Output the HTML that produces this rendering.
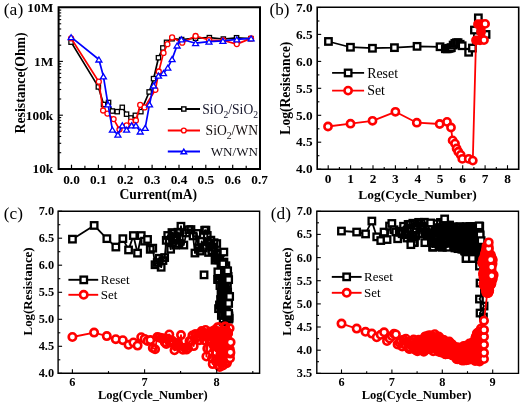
<!DOCTYPE html>
<html><head><meta charset="utf-8"><style>
html,body{margin:0;padding:0;background:#fff;overflow:hidden;width:523px;height:404px}
svg{display:block;will-change:transform}
</style></head><body>
<svg width="523" height="404" viewBox="0 0 523 404">
<rect width="523" height="404" fill="#fff"/>
<polyline fill="none" stroke="#000" stroke-width="1.7" stroke-linejoin="round" points="71.1,42.1 98.4,86.9 103.6,104.5 108.6,102.5 112.4,111.1 117.3,111.7 122.3,107.4 126.6,114.2 130.9,117.9 135.3,115.4 140.8,111.7 149.2,92 153.6,78.7 158.5,57.8 162.8,47.9 166.6,42.4 172.1,38.7 181.7,39.5 195.6,38.2 209.3,37.6 223.4,39 236.6,37.8 250.8,38.6"/>
<rect x="68.9" y="40" width="4.3" height="4.3" fill="#fff" stroke="#000" stroke-width="1.3"/>
<rect x="96.2" y="84.8" width="4.3" height="4.3" fill="#fff" stroke="#000" stroke-width="1.3"/>
<rect x="101.4" y="102.3" width="4.3" height="4.3" fill="#fff" stroke="#000" stroke-width="1.3"/>
<rect x="106.4" y="100.3" width="4.3" height="4.3" fill="#fff" stroke="#000" stroke-width="1.3"/>
<rect x="110.2" y="108.9" width="4.3" height="4.3" fill="#fff" stroke="#000" stroke-width="1.3"/>
<rect x="115.1" y="109.5" width="4.3" height="4.3" fill="#fff" stroke="#000" stroke-width="1.3"/>
<rect x="120.1" y="105.2" width="4.3" height="4.3" fill="#fff" stroke="#000" stroke-width="1.3"/>
<rect x="124.4" y="112" width="4.3" height="4.3" fill="#fff" stroke="#000" stroke-width="1.3"/>
<rect x="128.8" y="115.8" width="4.3" height="4.3" fill="#fff" stroke="#000" stroke-width="1.3"/>
<rect x="133.2" y="113.2" width="4.3" height="4.3" fill="#fff" stroke="#000" stroke-width="1.3"/>
<rect x="138.7" y="109.5" width="4.3" height="4.3" fill="#fff" stroke="#000" stroke-width="1.3"/>
<rect x="147" y="89.8" width="4.3" height="4.3" fill="#fff" stroke="#000" stroke-width="1.3"/>
<rect x="151.4" y="76.5" width="4.3" height="4.3" fill="#fff" stroke="#000" stroke-width="1.3"/>
<rect x="156.3" y="55.6" width="4.3" height="4.3" fill="#fff" stroke="#000" stroke-width="1.3"/>
<rect x="160.7" y="45.8" width="4.3" height="4.3" fill="#fff" stroke="#000" stroke-width="1.3"/>
<rect x="164.4" y="40.2" width="4.3" height="4.3" fill="#fff" stroke="#000" stroke-width="1.3"/>
<rect x="169.9" y="36.6" width="4.3" height="4.3" fill="#fff" stroke="#000" stroke-width="1.3"/>
<rect x="179.5" y="37.4" width="4.3" height="4.3" fill="#fff" stroke="#000" stroke-width="1.3"/>
<rect x="193.4" y="36.1" width="4.3" height="4.3" fill="#fff" stroke="#000" stroke-width="1.3"/>
<rect x="207.2" y="35.5" width="4.3" height="4.3" fill="#fff" stroke="#000" stroke-width="1.3"/>
<rect x="221.2" y="36.9" width="4.3" height="4.3" fill="#fff" stroke="#000" stroke-width="1.3"/>
<rect x="234.4" y="35.6" width="4.3" height="4.3" fill="#fff" stroke="#000" stroke-width="1.3"/>
<rect x="248.7" y="36.5" width="4.3" height="4.3" fill="#fff" stroke="#000" stroke-width="1.3"/>
<polyline fill="none" stroke="#f00" stroke-width="1.7" stroke-linejoin="round" points="71.1,38.3 98.8,81.7 103.1,110.5 107.4,113.6 113.6,119.1 119.5,129.5 126.6,125.3 130.9,121.6 135.9,120.4 140.2,104.9 144.6,107.4 155.4,89.8 158.8,71.5 163.5,52.9 167.4,44.2 172.1,37.4 182.2,42.7 195.6,36 209,40 223.4,40.5 236.8,44.1 251,38.4"/>
<circle cx="71.1" cy="38.3" r="2.5" fill="#fff" stroke="#f00" stroke-width="1.3"/>
<circle cx="98.8" cy="81.7" r="2.5" fill="#fff" stroke="#f00" stroke-width="1.3"/>
<circle cx="103.1" cy="110.5" r="2.5" fill="#fff" stroke="#f00" stroke-width="1.3"/>
<circle cx="107.4" cy="113.6" r="2.5" fill="#fff" stroke="#f00" stroke-width="1.3"/>
<circle cx="113.6" cy="119.1" r="2.5" fill="#fff" stroke="#f00" stroke-width="1.3"/>
<circle cx="119.5" cy="129.5" r="2.5" fill="#fff" stroke="#f00" stroke-width="1.3"/>
<circle cx="126.6" cy="125.3" r="2.5" fill="#fff" stroke="#f00" stroke-width="1.3"/>
<circle cx="130.9" cy="121.6" r="2.5" fill="#fff" stroke="#f00" stroke-width="1.3"/>
<circle cx="135.9" cy="120.4" r="2.5" fill="#fff" stroke="#f00" stroke-width="1.3"/>
<circle cx="140.2" cy="104.9" r="2.5" fill="#fff" stroke="#f00" stroke-width="1.3"/>
<circle cx="144.6" cy="107.4" r="2.5" fill="#fff" stroke="#f00" stroke-width="1.3"/>
<circle cx="155.4" cy="89.8" r="2.5" fill="#fff" stroke="#f00" stroke-width="1.3"/>
<circle cx="158.8" cy="71.5" r="2.5" fill="#fff" stroke="#f00" stroke-width="1.3"/>
<circle cx="163.5" cy="52.9" r="2.5" fill="#fff" stroke="#f00" stroke-width="1.3"/>
<circle cx="167.4" cy="44.2" r="2.5" fill="#fff" stroke="#f00" stroke-width="1.3"/>
<circle cx="172.1" cy="37.4" r="2.5" fill="#fff" stroke="#f00" stroke-width="1.3"/>
<circle cx="182.2" cy="42.7" r="2.5" fill="#fff" stroke="#f00" stroke-width="1.3"/>
<circle cx="195.6" cy="36" r="2.5" fill="#fff" stroke="#f00" stroke-width="1.3"/>
<circle cx="209" cy="40" r="2.5" fill="#fff" stroke="#f00" stroke-width="1.3"/>
<circle cx="223.4" cy="40.5" r="2.5" fill="#fff" stroke="#f00" stroke-width="1.3"/>
<circle cx="236.8" cy="44.1" r="2.5" fill="#fff" stroke="#f00" stroke-width="1.3"/>
<circle cx="251" cy="38.4" r="2.5" fill="#fff" stroke="#f00" stroke-width="1.3"/>
<polyline fill="none" stroke="#00f" stroke-width="1.7" stroke-linejoin="round" points="71.1,37.2 98.9,59.5 103.4,76.3 108,104.3 112.4,129.7 117.9,134.6 122.3,125.3 126.6,129.7 131.6,125.3 135.9,125.3 140.2,131.5 145.2,127.8 149.5,104.3 153.6,85.5 158.5,75.6 163.5,73.1 167.8,67.7 172.1,59.1 177.1,45.5 181.4,39.3 195.6,43.2 209,41.7 222.9,40.8 236.8,39.3 251.1,38.4"/>
<polygon points="68.1,39.7 74.1,39.7 71.1,34.7" fill="#fff" stroke="#00f" stroke-width="1.3" stroke-linejoin="miter"/>
<polygon points="95.9,62 101.9,62 98.9,57" fill="#fff" stroke="#00f" stroke-width="1.3" stroke-linejoin="miter"/>
<polygon points="100.4,78.8 106.4,78.8 103.4,73.8" fill="#fff" stroke="#00f" stroke-width="1.3" stroke-linejoin="miter"/>
<polygon points="105,106.8 111,106.8 108,101.8" fill="#fff" stroke="#00f" stroke-width="1.3" stroke-linejoin="miter"/>
<polygon points="109.4,132.2 115.4,132.2 112.4,127.2" fill="#fff" stroke="#00f" stroke-width="1.3" stroke-linejoin="miter"/>
<polygon points="114.9,137.1 120.9,137.1 117.9,132.1" fill="#fff" stroke="#00f" stroke-width="1.3" stroke-linejoin="miter"/>
<polygon points="119.3,127.8 125.3,127.8 122.3,122.8" fill="#fff" stroke="#00f" stroke-width="1.3" stroke-linejoin="miter"/>
<polygon points="123.6,132.2 129.6,132.2 126.6,127.2" fill="#fff" stroke="#00f" stroke-width="1.3" stroke-linejoin="miter"/>
<polygon points="128.6,127.8 134.6,127.8 131.6,122.8" fill="#fff" stroke="#00f" stroke-width="1.3" stroke-linejoin="miter"/>
<polygon points="132.9,127.8 138.9,127.8 135.9,122.8" fill="#fff" stroke="#00f" stroke-width="1.3" stroke-linejoin="miter"/>
<polygon points="137.2,134 143.2,134 140.2,129" fill="#fff" stroke="#00f" stroke-width="1.3" stroke-linejoin="miter"/>
<polygon points="142.2,130.3 148.2,130.3 145.2,125.3" fill="#fff" stroke="#00f" stroke-width="1.3" stroke-linejoin="miter"/>
<polygon points="146.5,106.8 152.5,106.8 149.5,101.8" fill="#fff" stroke="#00f" stroke-width="1.3" stroke-linejoin="miter"/>
<polygon points="150.6,88 156.6,88 153.6,83" fill="#fff" stroke="#00f" stroke-width="1.3" stroke-linejoin="miter"/>
<polygon points="155.5,78.1 161.5,78.1 158.5,73.1" fill="#fff" stroke="#00f" stroke-width="1.3" stroke-linejoin="miter"/>
<polygon points="160.5,75.6 166.5,75.6 163.5,70.6" fill="#fff" stroke="#00f" stroke-width="1.3" stroke-linejoin="miter"/>
<polygon points="164.8,70.2 170.8,70.2 167.8,65.2" fill="#fff" stroke="#00f" stroke-width="1.3" stroke-linejoin="miter"/>
<polygon points="169.1,61.6 175.1,61.6 172.1,56.6" fill="#fff" stroke="#00f" stroke-width="1.3" stroke-linejoin="miter"/>
<polygon points="174.1,48 180.1,48 177.1,43" fill="#fff" stroke="#00f" stroke-width="1.3" stroke-linejoin="miter"/>
<polygon points="178.4,41.8 184.4,41.8 181.4,36.8" fill="#fff" stroke="#00f" stroke-width="1.3" stroke-linejoin="miter"/>
<polygon points="192.6,45.7 198.6,45.7 195.6,40.7" fill="#fff" stroke="#00f" stroke-width="1.3" stroke-linejoin="miter"/>
<polygon points="206,44.2 212,44.2 209,39.2" fill="#fff" stroke="#00f" stroke-width="1.3" stroke-linejoin="miter"/>
<polygon points="219.9,43.3 225.9,43.3 222.9,38.3" fill="#fff" stroke="#00f" stroke-width="1.3" stroke-linejoin="miter"/>
<polygon points="233.8,41.8 239.8,41.8 236.8,36.8" fill="#fff" stroke="#00f" stroke-width="1.3" stroke-linejoin="miter"/>
<polygon points="248.1,40.9 254.1,40.9 251.1,35.9" fill="#fff" stroke="#00f" stroke-width="1.3" stroke-linejoin="miter"/>
<path d="M58.6 7.3H260V168.9H58.6Z" fill="none" stroke="#000" stroke-width="2"/>
<line x1="71.5" y1="168.9" x2="71.5" y2="164.7" stroke="#000" stroke-width="1.2"/>
<line x1="84.9" y1="168.9" x2="84.9" y2="165.7" stroke="#000" stroke-width="1.2"/>
<line x1="98.4" y1="168.9" x2="98.4" y2="164.7" stroke="#000" stroke-width="1.2"/>
<line x1="111.8" y1="168.9" x2="111.8" y2="165.7" stroke="#000" stroke-width="1.2"/>
<line x1="125.2" y1="168.9" x2="125.2" y2="164.7" stroke="#000" stroke-width="1.2"/>
<line x1="138.7" y1="168.9" x2="138.7" y2="165.7" stroke="#000" stroke-width="1.2"/>
<line x1="152.1" y1="168.9" x2="152.1" y2="164.7" stroke="#000" stroke-width="1.2"/>
<line x1="165.5" y1="168.9" x2="165.5" y2="165.7" stroke="#000" stroke-width="1.2"/>
<line x1="179" y1="168.9" x2="179" y2="164.7" stroke="#000" stroke-width="1.2"/>
<line x1="192.4" y1="168.9" x2="192.4" y2="165.7" stroke="#000" stroke-width="1.2"/>
<line x1="205.8" y1="168.9" x2="205.8" y2="164.7" stroke="#000" stroke-width="1.2"/>
<line x1="219.3" y1="168.9" x2="219.3" y2="165.7" stroke="#000" stroke-width="1.2"/>
<line x1="232.7" y1="168.9" x2="232.7" y2="164.7" stroke="#000" stroke-width="1.2"/>
<line x1="246.2" y1="168.9" x2="246.2" y2="165.7" stroke="#000" stroke-width="1.2"/>
<line x1="259.6" y1="168.9" x2="259.6" y2="164.7" stroke="#000" stroke-width="1.2"/>
<text x="71.5" y="184.3" font-family="Liberation Serif" font-size="13.3" font-weight="bold" text-anchor="middle" fill="#000">0.0</text>
<text x="98.4" y="184.3" font-family="Liberation Serif" font-size="13.3" font-weight="bold" text-anchor="middle" fill="#000">0.1</text>
<text x="125.2" y="184.3" font-family="Liberation Serif" font-size="13.3" font-weight="bold" text-anchor="middle" fill="#000">0.2</text>
<text x="152.1" y="184.3" font-family="Liberation Serif" font-size="13.3" font-weight="bold" text-anchor="middle" fill="#000">0.3</text>
<text x="179" y="184.3" font-family="Liberation Serif" font-size="13.3" font-weight="bold" text-anchor="middle" fill="#000">0.4</text>
<text x="205.8" y="184.3" font-family="Liberation Serif" font-size="13.3" font-weight="bold" text-anchor="middle" fill="#000">0.5</text>
<text x="232.7" y="184.3" font-family="Liberation Serif" font-size="13.3" font-weight="bold" text-anchor="middle" fill="#000">0.6</text>
<text x="259.6" y="184.3" font-family="Liberation Serif" font-size="13.3" font-weight="bold" text-anchor="middle" fill="#000">0.7</text>
<line x1="58.6" y1="168.9" x2="62.9" y2="168.9" stroke="#000" stroke-width="1.1"/>
<line x1="58.6" y1="152.7" x2="61.2" y2="152.7" stroke="#000" stroke-width="1.1"/>
<line x1="58.6" y1="143.3" x2="61.2" y2="143.3" stroke="#000" stroke-width="1.1"/>
<line x1="58.6" y1="136.5" x2="61.2" y2="136.5" stroke="#000" stroke-width="1.1"/>
<line x1="58.6" y1="131.3" x2="61.2" y2="131.3" stroke="#000" stroke-width="1.1"/>
<line x1="58.6" y1="127.1" x2="61.2" y2="127.1" stroke="#000" stroke-width="1.1"/>
<line x1="58.6" y1="123.5" x2="61.2" y2="123.5" stroke="#000" stroke-width="1.1"/>
<line x1="58.6" y1="120.4" x2="61.2" y2="120.4" stroke="#000" stroke-width="1.1"/>
<line x1="58.6" y1="117.6" x2="61.2" y2="117.6" stroke="#000" stroke-width="1.1"/>
<line x1="58.6" y1="115.2" x2="62.9" y2="115.2" stroke="#000" stroke-width="1.1"/>
<line x1="58.6" y1="99" x2="61.2" y2="99" stroke="#000" stroke-width="1.1"/>
<line x1="58.6" y1="89.5" x2="61.2" y2="89.5" stroke="#000" stroke-width="1.1"/>
<line x1="58.6" y1="82.8" x2="61.2" y2="82.8" stroke="#000" stroke-width="1.1"/>
<line x1="58.6" y1="77.6" x2="61.2" y2="77.6" stroke="#000" stroke-width="1.1"/>
<line x1="58.6" y1="73.3" x2="61.2" y2="73.3" stroke="#000" stroke-width="1.1"/>
<line x1="58.6" y1="69.7" x2="61.2" y2="69.7" stroke="#000" stroke-width="1.1"/>
<line x1="58.6" y1="66.6" x2="61.2" y2="66.6" stroke="#000" stroke-width="1.1"/>
<line x1="58.6" y1="63.9" x2="61.2" y2="63.9" stroke="#000" stroke-width="1.1"/>
<line x1="58.6" y1="61.4" x2="62.9" y2="61.4" stroke="#000" stroke-width="1.1"/>
<line x1="58.6" y1="45.2" x2="61.2" y2="45.2" stroke="#000" stroke-width="1.1"/>
<line x1="58.6" y1="35.8" x2="61.2" y2="35.8" stroke="#000" stroke-width="1.1"/>
<line x1="58.6" y1="29" x2="61.2" y2="29" stroke="#000" stroke-width="1.1"/>
<line x1="58.6" y1="23.8" x2="61.2" y2="23.8" stroke="#000" stroke-width="1.1"/>
<line x1="58.6" y1="19.6" x2="61.2" y2="19.6" stroke="#000" stroke-width="1.1"/>
<line x1="58.6" y1="16" x2="61.2" y2="16" stroke="#000" stroke-width="1.1"/>
<line x1="58.6" y1="12.9" x2="61.2" y2="12.9" stroke="#000" stroke-width="1.1"/>
<line x1="58.6" y1="10.1" x2="61.2" y2="10.1" stroke="#000" stroke-width="1.1"/>
<text x="53.2" y="173.2" font-family="Liberation Serif" font-size="13.3" font-weight="bold" text-anchor="end" fill="#000">10k</text>
<text x="53.2" y="119.5" font-family="Liberation Serif" font-size="13.3" font-weight="bold" text-anchor="end" fill="#000">100k</text>
<text x="53.2" y="65.7" font-family="Liberation Serif" font-size="13.3" font-weight="bold" text-anchor="end" fill="#000">1M</text>
<text x="53.2" y="12" font-family="Liberation Serif" font-size="13.3" font-weight="bold" text-anchor="end" fill="#000">10M</text>
<text x="158.3" y="198.7" font-family="Liberation Serif" font-size="13.6" font-weight="bold" text-anchor="middle" fill="#000">Current(mA)</text>
<text x="24.9" y="82.9" font-family="Liberation Serif" font-size="13.8" font-weight="bold" text-anchor="middle" fill="#000" transform="rotate(-90 24.9 82.9)">Resistance(Ohm)</text>
<text x="3.8" y="15" font-family="Liberation Serif" font-size="17.5" font-weight="normal" text-anchor="start" fill="#000">(a)</text>
<line x1="167.8" y1="109" x2="200" y2="109" stroke="#000" stroke-width="1.9"/>
<rect x="181.7" y="106.9" width="4.2" height="4.2" fill="#fff" stroke="#000" stroke-width="1.4"/>
<line x1="167.8" y1="130.5" x2="200" y2="130.5" stroke="#f00" stroke-width="1.9"/>
<circle cx="183.8" cy="130.5" r="2.4" fill="#fff" stroke="#f00" stroke-width="1.4"/>
<line x1="167.8" y1="151.5" x2="200" y2="151.5" stroke="#00f" stroke-width="1.9"/>
<polygon points="181,153.8 186.6,153.8 183.8,149.2" fill="#fff" stroke="#00f" stroke-width="1.4" stroke-linejoin="miter"/>
<text x="258" y="114.3" font-family="Liberation Serif" font-size="13.6" text-anchor="end" fill="#14142a">SiO<tspan font-size="9.6" dy="3.6">2</tspan><tspan dy="-3.6">/SiO</tspan><tspan font-size="9.6" dy="3.6">2</tspan></text>
<text x="258" y="135" font-family="Liberation Serif" font-size="13.6" text-anchor="end" fill="#161010">SiO<tspan font-size="9.6" dy="3.6">2</tspan><tspan dy="-3.6">/WN</tspan></text>
<text x="258" y="156.3" font-family="Liberation Serif" font-size="13.1" text-anchor="end" fill="#101018">WN/WN</text>
<polyline fill="none" stroke="#000" stroke-width="1.7" stroke-linejoin="round" points="328.5,41.5 350.5,47.2 372.5,48.2 394.5,47.6 417,46.4 440,46.8 445.3,48.7 447.2,48.9 448.8,48.4 450.2,48 451.4,47.6 453.2,45 454.9,43.4 456.5,42.8 458,42.6 460.2,44.2 462.2,45.7 468.7,52.2 472.5,48 474.5,30 478.3,17.8 486,34.5"/>
<rect x="325.2" y="38.2" width="6.5" height="6.5" fill="#fff" stroke="#000" stroke-width="2.3"/>
<rect x="347.2" y="44" width="6.5" height="6.5" fill="#fff" stroke="#000" stroke-width="2.3"/>
<rect x="369.2" y="45" width="6.5" height="6.5" fill="#fff" stroke="#000" stroke-width="2.3"/>
<rect x="391.2" y="44.4" width="6.5" height="6.5" fill="#fff" stroke="#000" stroke-width="2.3"/>
<rect x="413.8" y="43.1" width="6.5" height="6.5" fill="#fff" stroke="#000" stroke-width="2.3"/>
<rect x="436.8" y="43.5" width="6.5" height="6.5" fill="#fff" stroke="#000" stroke-width="2.3"/>
<rect x="442.1" y="45.5" width="6.5" height="6.5" fill="#fff" stroke="#000" stroke-width="2.3"/>
<rect x="443.9" y="45.6" width="6.5" height="6.5" fill="#fff" stroke="#000" stroke-width="2.3"/>
<rect x="445.6" y="45.1" width="6.5" height="6.5" fill="#fff" stroke="#000" stroke-width="2.3"/>
<rect x="446.9" y="44.8" width="6.5" height="6.5" fill="#fff" stroke="#000" stroke-width="2.3"/>
<rect x="448.1" y="44.4" width="6.5" height="6.5" fill="#fff" stroke="#000" stroke-width="2.3"/>
<rect x="449.9" y="41.8" width="6.5" height="6.5" fill="#fff" stroke="#000" stroke-width="2.3"/>
<rect x="451.6" y="40.1" width="6.5" height="6.5" fill="#fff" stroke="#000" stroke-width="2.3"/>
<rect x="453.2" y="39.5" width="6.5" height="6.5" fill="#fff" stroke="#000" stroke-width="2.3"/>
<rect x="454.8" y="39.4" width="6.5" height="6.5" fill="#fff" stroke="#000" stroke-width="2.3"/>
<rect x="456.9" y="41" width="6.5" height="6.5" fill="#fff" stroke="#000" stroke-width="2.3"/>
<rect x="458.9" y="42.5" width="6.5" height="6.5" fill="#fff" stroke="#000" stroke-width="2.3"/>
<rect x="465.4" y="49" width="6.5" height="6.5" fill="#fff" stroke="#000" stroke-width="2.3"/>
<rect x="469.2" y="44.8" width="6.5" height="6.5" fill="#fff" stroke="#000" stroke-width="2.3"/>
<rect x="471.2" y="26.8" width="6.5" height="6.5" fill="#fff" stroke="#000" stroke-width="2.3"/>
<rect x="475.1" y="14.6" width="6.5" height="6.5" fill="#fff" stroke="#000" stroke-width="2.3"/>
<rect x="482.8" y="31.2" width="6.5" height="6.5" fill="#fff" stroke="#000" stroke-width="2.3"/>
<polyline fill="none" stroke="#f00" stroke-width="1.8" stroke-linejoin="round" points="328,126.5 350.5,123.7 372.5,120.8 395.4,111.8 416.8,122.7 439.7,124 447,121.9 451,127.5 452.6,140.4 455,143.6 456.6,148.5 458.3,151.7 460.7,154.9 462.3,158.9 468.7,158.9 472.8,160.6 476,40.3"/>
<polyline fill="none" stroke="#f00" stroke-width="1.5" stroke-linejoin="round" points="476,40.3 480,40.3 481,32 478,24.2 481.5,24.2 484,40.1 485.1,23.9"/>
<circle cx="328" cy="126.5" r="3.6" fill="#fff" stroke="#f00" stroke-width="2.6"/>
<circle cx="350.5" cy="123.7" r="3.6" fill="#fff" stroke="#f00" stroke-width="2.6"/>
<circle cx="372.5" cy="120.8" r="3.6" fill="#fff" stroke="#f00" stroke-width="2.6"/>
<circle cx="395.4" cy="111.8" r="3.6" fill="#fff" stroke="#f00" stroke-width="2.6"/>
<circle cx="416.8" cy="122.7" r="3.6" fill="#fff" stroke="#f00" stroke-width="2.6"/>
<circle cx="439.7" cy="124" r="3.6" fill="#fff" stroke="#f00" stroke-width="2.6"/>
<circle cx="447" cy="121.9" r="3.6" fill="#fff" stroke="#f00" stroke-width="2.6"/>
<circle cx="451" cy="127.5" r="3.6" fill="#fff" stroke="#f00" stroke-width="2.6"/>
<circle cx="452.6" cy="140.4" r="3.6" fill="#fff" stroke="#f00" stroke-width="2.6"/>
<circle cx="455" cy="143.6" r="3.6" fill="#fff" stroke="#f00" stroke-width="2.6"/>
<circle cx="456.6" cy="148.5" r="3.6" fill="#fff" stroke="#f00" stroke-width="2.6"/>
<circle cx="458.3" cy="151.7" r="3.6" fill="#fff" stroke="#f00" stroke-width="2.6"/>
<circle cx="460.7" cy="154.9" r="3.6" fill="#fff" stroke="#f00" stroke-width="2.6"/>
<circle cx="462.3" cy="158.9" r="3.6" fill="#fff" stroke="#f00" stroke-width="2.6"/>
<circle cx="468.7" cy="158.9" r="3.6" fill="#fff" stroke="#f00" stroke-width="2.6"/>
<circle cx="472.8" cy="160.6" r="3.6" fill="#fff" stroke="#f00" stroke-width="2.6"/>
<circle cx="476" cy="40.3" r="3.6" fill="#f00" stroke="#f00" stroke-width="2.6"/>
<circle cx="480" cy="40.3" r="3.6" fill="#f00" stroke="#f00" stroke-width="2.6"/>
<circle cx="481" cy="32" r="3.6" fill="#f00" stroke="#f00" stroke-width="2.6"/>
<circle cx="478" cy="24.2" r="3.6" fill="#f00" stroke="#f00" stroke-width="2.6"/>
<circle cx="481.5" cy="24.2" r="3.6" fill="#f00" stroke="#f00" stroke-width="2.6"/>
<circle cx="484" cy="40.1" r="3.6" fill="#fff" stroke="#f00" stroke-width="2.6"/>
<circle cx="485.1" cy="23.9" r="3.6" fill="#fff" stroke="#f00" stroke-width="2.6"/>
<path d="M317.2 7.3H518.7V169.2H317.2Z" fill="none" stroke="#000" stroke-width="1.6"/>
<line x1="328.2" y1="169.2" x2="328.2" y2="165.2" stroke="#000" stroke-width="1.1"/>
<line x1="339.4" y1="169.2" x2="339.4" y2="167" stroke="#000" stroke-width="1.1"/>
<line x1="350.6" y1="169.2" x2="350.6" y2="165.2" stroke="#000" stroke-width="1.1"/>
<line x1="361.8" y1="169.2" x2="361.8" y2="167" stroke="#000" stroke-width="1.1"/>
<line x1="373" y1="169.2" x2="373" y2="165.2" stroke="#000" stroke-width="1.1"/>
<line x1="384.2" y1="169.2" x2="384.2" y2="167" stroke="#000" stroke-width="1.1"/>
<line x1="395.4" y1="169.2" x2="395.4" y2="165.2" stroke="#000" stroke-width="1.1"/>
<line x1="406.6" y1="169.2" x2="406.6" y2="167" stroke="#000" stroke-width="1.1"/>
<line x1="417.8" y1="169.2" x2="417.8" y2="165.2" stroke="#000" stroke-width="1.1"/>
<line x1="429" y1="169.2" x2="429" y2="167" stroke="#000" stroke-width="1.1"/>
<line x1="440.2" y1="169.2" x2="440.2" y2="165.2" stroke="#000" stroke-width="1.1"/>
<line x1="451.5" y1="169.2" x2="451.5" y2="167" stroke="#000" stroke-width="1.1"/>
<line x1="462.7" y1="169.2" x2="462.7" y2="165.2" stroke="#000" stroke-width="1.1"/>
<line x1="473.9" y1="169.2" x2="473.9" y2="167" stroke="#000" stroke-width="1.1"/>
<line x1="485.1" y1="169.2" x2="485.1" y2="165.2" stroke="#000" stroke-width="1.1"/>
<line x1="496.3" y1="169.2" x2="496.3" y2="167" stroke="#000" stroke-width="1.1"/>
<line x1="507.5" y1="169.2" x2="507.5" y2="165.2" stroke="#000" stroke-width="1.1"/>
<text x="328.2" y="183.3" font-family="Liberation Serif" font-size="13.3" font-weight="bold" text-anchor="middle" fill="#000">0</text>
<text x="350.6" y="183.3" font-family="Liberation Serif" font-size="13.3" font-weight="bold" text-anchor="middle" fill="#000">1</text>
<text x="373" y="183.3" font-family="Liberation Serif" font-size="13.3" font-weight="bold" text-anchor="middle" fill="#000">2</text>
<text x="395.4" y="183.3" font-family="Liberation Serif" font-size="13.3" font-weight="bold" text-anchor="middle" fill="#000">3</text>
<text x="417.8" y="183.3" font-family="Liberation Serif" font-size="13.3" font-weight="bold" text-anchor="middle" fill="#000">4</text>
<text x="440.2" y="183.3" font-family="Liberation Serif" font-size="13.3" font-weight="bold" text-anchor="middle" fill="#000">5</text>
<text x="462.7" y="183.3" font-family="Liberation Serif" font-size="13.3" font-weight="bold" text-anchor="middle" fill="#000">6</text>
<text x="485.1" y="183.3" font-family="Liberation Serif" font-size="13.3" font-weight="bold" text-anchor="middle" fill="#000">7</text>
<text x="507.5" y="183.3" font-family="Liberation Serif" font-size="13.3" font-weight="bold" text-anchor="middle" fill="#000">8</text>
<line x1="317.2" y1="169.2" x2="321.2" y2="169.2" stroke="#000" stroke-width="1.1"/>
<line x1="317.2" y1="155.7" x2="319.4" y2="155.7" stroke="#000" stroke-width="1.1"/>
<line x1="317.2" y1="142.2" x2="321.2" y2="142.2" stroke="#000" stroke-width="1.1"/>
<line x1="317.2" y1="128.8" x2="319.4" y2="128.8" stroke="#000" stroke-width="1.1"/>
<line x1="317.2" y1="115.3" x2="321.2" y2="115.3" stroke="#000" stroke-width="1.1"/>
<line x1="317.2" y1="101.8" x2="319.4" y2="101.8" stroke="#000" stroke-width="1.1"/>
<line x1="317.2" y1="88.3" x2="321.2" y2="88.3" stroke="#000" stroke-width="1.1"/>
<line x1="317.2" y1="74.9" x2="319.4" y2="74.9" stroke="#000" stroke-width="1.1"/>
<line x1="317.2" y1="61.4" x2="321.2" y2="61.4" stroke="#000" stroke-width="1.1"/>
<line x1="317.2" y1="47.9" x2="319.4" y2="47.9" stroke="#000" stroke-width="1.1"/>
<line x1="317.2" y1="34.4" x2="321.2" y2="34.4" stroke="#000" stroke-width="1.1"/>
<line x1="317.2" y1="21" x2="319.4" y2="21" stroke="#000" stroke-width="1.1"/>
<line x1="317.2" y1="7.5" x2="321.2" y2="7.5" stroke="#000" stroke-width="1.1"/>
<text x="312.6" y="173.4" font-family="Liberation Serif" font-size="13.3" font-weight="bold" text-anchor="end" fill="#000">4.0</text>
<text x="312.6" y="146.4" font-family="Liberation Serif" font-size="13.3" font-weight="bold" text-anchor="end" fill="#000">4.5</text>
<text x="312.6" y="119.5" font-family="Liberation Serif" font-size="13.3" font-weight="bold" text-anchor="end" fill="#000">5.0</text>
<text x="312.6" y="92.5" font-family="Liberation Serif" font-size="13.3" font-weight="bold" text-anchor="end" fill="#000">5.5</text>
<text x="312.6" y="65.6" font-family="Liberation Serif" font-size="13.3" font-weight="bold" text-anchor="end" fill="#000">6.0</text>
<text x="312.6" y="38.6" font-family="Liberation Serif" font-size="13.3" font-weight="bold" text-anchor="end" fill="#000">6.5</text>
<text x="312.6" y="11.7" font-family="Liberation Serif" font-size="13.3" font-weight="bold" text-anchor="end" fill="#000">7.0</text>
<text x="417.6" y="198.7" font-family="Liberation Serif" font-size="13.5" font-weight="bold" text-anchor="middle" fill="#000">Log(Cycle_Number)</text>
<text x="290.1" y="88.2" font-family="Liberation Serif" font-size="13.6" font-weight="bold" text-anchor="middle" fill="#000" transform="rotate(-90 290.1 88.2)">Log(Resistance)</text>
<text x="269.5" y="14.6" font-family="Liberation Serif" font-size="17" font-weight="normal" text-anchor="start" fill="#000">(b)</text>
<line x1="332.1" y1="72.9" x2="364.1" y2="72.9" stroke="#000" stroke-width="1.9"/>
<rect x="344.9" y="69.7" width="6.5" height="6.5" fill="#fff" stroke="#000" stroke-width="2.3"/>
<line x1="332.1" y1="90.6" x2="364.1" y2="90.6" stroke="#f00" stroke-width="1.9"/>
<circle cx="348.1" cy="90.6" r="3.6" fill="#fff" stroke="#f00" stroke-width="2.6"/>
<text x="367.2" y="77.9" font-family="Liberation Serif" font-size="13.9" font-weight="normal" text-anchor="start" fill="#000">Reset</text>
<text x="367.2" y="95" font-family="Liberation Serif" font-size="13.9" font-weight="normal" text-anchor="start" fill="#000">Set</text>
<polyline fill="none" stroke="#000" stroke-width="1.8" stroke-linejoin="round" points="72.4,239.2 94.1,225.4 106.8,238.7 115.8,247.1 122.8,238.7 128.5,249.9 133.4,235.6 137.6,253.2 141.2,235.6 144.6,241.2 147.5,239.4 150.3,249.4 152.8,248.2 155.1,264.8 157.3,262.6 159.3,258.2 161.2,267.2 163,260.6 164.7,257.6 166.3,240.3 167.8,235.5 169.3,241.8 170.6,249.2 172,232.6 173.3,233.5 174.5,240.4 175.7,245.2 176.8,236.7 177.9,232.2 179,243.4 181,226.2 183.8,245.1 186.4,232.9 188.8,229.8 191,229.6 193,236 195,253.1 196.8,233.4 198.5,248 200.2,251 201.7,241.4 203.2,247.7 204.6,230.3 206,230.1 207.3,235.4 208.5,252.5 209.7,243.4 210.9,240.1 212,250.7 213,247 214.1,242.8 215.1,260.1 216.1,257.7 216.7,243.5 217,254.6 217.3,258.3 217.6,279.5 217.9,279.4 218.2,259.8 218.5,308.7 218.8,254.5 219.1,278.9 219.4,304.9 219.7,259.9 220,285.5 220.3,252.7 220.5,299.5 220.8,306.9 221.1,293.2 221.4,315.4 221.6,275.3 221.9,303 222.2,296.1 222.4,295.4 222.7,287.1 222.9,314.2 223.2,321.7 223.4,289.4 223.7,302.8 223.9,262 224.2,305.9 224.4,302.5 224.7,325.4 224.9,314.3 225.2,280.1 225.4,287 225.6,305.1 225.9,265.7 226.1,293.1 226.3,276 226.6,273.6 226.8,270.9 227,312.2 227.2,276.3 227.5,283.5 227.7,291.9 227.9,318.3 228.1,276.3 228.3,296.3 228.6,301.8 228.8,319.1 229,316 229.2,318.2"/>
<rect x="69.2" y="235.9" width="6.5" height="6.5" fill="#fff" stroke="#000" stroke-width="2.3"/>
<rect x="90.9" y="222.2" width="6.5" height="6.5" fill="#fff" stroke="#000" stroke-width="2.3"/>
<rect x="103.6" y="235.4" width="6.5" height="6.5" fill="#fff" stroke="#000" stroke-width="2.3"/>
<rect x="112.6" y="243.8" width="6.5" height="6.5" fill="#fff" stroke="#000" stroke-width="2.3"/>
<rect x="119.6" y="235.4" width="6.5" height="6.5" fill="#fff" stroke="#000" stroke-width="2.3"/>
<rect x="125.3" y="246.7" width="6.5" height="6.5" fill="#fff" stroke="#000" stroke-width="2.3"/>
<rect x="130.1" y="232.3" width="6.5" height="6.5" fill="#fff" stroke="#000" stroke-width="2.3"/>
<rect x="134.3" y="249.9" width="6.5" height="6.5" fill="#fff" stroke="#000" stroke-width="2.3"/>
<rect x="138" y="232.3" width="6.5" height="6.5" fill="#fff" stroke="#000" stroke-width="2.3"/>
<rect x="141.3" y="237.9" width="6.5" height="6.5" fill="#fff" stroke="#000" stroke-width="2.3"/>
<rect x="144.3" y="236.2" width="6.5" height="6.5" fill="#fff" stroke="#000" stroke-width="2.3"/>
<rect x="147" y="246.1" width="6.5" height="6.5" fill="#fff" stroke="#000" stroke-width="2.3"/>
<rect x="149.5" y="244.9" width="6.5" height="6.5" fill="none" stroke="#000" stroke-width="2.3"/>
<rect x="151.8" y="261.5" width="6.5" height="6.5" fill="none" stroke="#000" stroke-width="2.3"/>
<rect x="154" y="259.3" width="6.5" height="6.5" fill="none" stroke="#000" stroke-width="2.3"/>
<rect x="156" y="255" width="6.5" height="6.5" fill="none" stroke="#000" stroke-width="2.3"/>
<rect x="157.9" y="264" width="6.5" height="6.5" fill="none" stroke="#000" stroke-width="2.3"/>
<rect x="159.7" y="257.3" width="6.5" height="6.5" fill="none" stroke="#000" stroke-width="2.3"/>
<rect x="161.4" y="254.3" width="6.5" height="6.5" fill="none" stroke="#000" stroke-width="2.3"/>
<rect x="163" y="237.1" width="6.5" height="6.5" fill="none" stroke="#000" stroke-width="2.3"/>
<rect x="164.5" y="232.2" width="6.5" height="6.5" fill="none" stroke="#000" stroke-width="2.3"/>
<rect x="166" y="238.6" width="6.5" height="6.5" fill="none" stroke="#000" stroke-width="2.3"/>
<rect x="167.4" y="246" width="6.5" height="6.5" fill="none" stroke="#000" stroke-width="2.3"/>
<rect x="168.7" y="229.3" width="6.5" height="6.5" fill="none" stroke="#000" stroke-width="2.3"/>
<rect x="170" y="230.2" width="6.5" height="6.5" fill="none" stroke="#000" stroke-width="2.3"/>
<rect x="171.2" y="237.1" width="6.5" height="6.5" fill="none" stroke="#000" stroke-width="2.3"/>
<rect x="172.4" y="241.9" width="6.5" height="6.5" fill="none" stroke="#000" stroke-width="2.3"/>
<rect x="173.6" y="233.5" width="6.5" height="6.5" fill="none" stroke="#000" stroke-width="2.3"/>
<rect x="174.7" y="229" width="6.5" height="6.5" fill="none" stroke="#000" stroke-width="2.3"/>
<rect x="175.7" y="240.2" width="6.5" height="6.5" fill="none" stroke="#000" stroke-width="2.3"/>
<rect x="177.7" y="223" width="6.5" height="6.5" fill="none" stroke="#000" stroke-width="2.3"/>
<rect x="180.6" y="241.8" width="6.5" height="6.5" fill="none" stroke="#000" stroke-width="2.3"/>
<rect x="183.1" y="229.7" width="6.5" height="6.5" fill="none" stroke="#000" stroke-width="2.3"/>
<rect x="185.5" y="226.5" width="6.5" height="6.5" fill="none" stroke="#000" stroke-width="2.3"/>
<rect x="187.7" y="226.3" width="6.5" height="6.5" fill="none" stroke="#000" stroke-width="2.3"/>
<rect x="189.8" y="232.7" width="6.5" height="6.5" fill="none" stroke="#000" stroke-width="2.3"/>
<rect x="191.7" y="249.8" width="6.5" height="6.5" fill="none" stroke="#000" stroke-width="2.3"/>
<rect x="193.6" y="230.2" width="6.5" height="6.5" fill="none" stroke="#000" stroke-width="2.3"/>
<rect x="195.3" y="244.7" width="6.5" height="6.5" fill="none" stroke="#000" stroke-width="2.3"/>
<rect x="196.9" y="247.8" width="6.5" height="6.5" fill="none" stroke="#000" stroke-width="2.3"/>
<rect x="198.5" y="238.2" width="6.5" height="6.5" fill="none" stroke="#000" stroke-width="2.3"/>
<rect x="200" y="244.5" width="6.5" height="6.5" fill="none" stroke="#000" stroke-width="2.3"/>
<rect x="201.4" y="227" width="6.5" height="6.5" fill="none" stroke="#000" stroke-width="2.3"/>
<rect x="202.7" y="226.9" width="6.5" height="6.5" fill="none" stroke="#000" stroke-width="2.3"/>
<rect x="204" y="232.2" width="6.5" height="6.5" fill="none" stroke="#000" stroke-width="2.3"/>
<rect x="205.3" y="249.2" width="6.5" height="6.5" fill="none" stroke="#000" stroke-width="2.3"/>
<rect x="206.5" y="240.1" width="6.5" height="6.5" fill="none" stroke="#000" stroke-width="2.3"/>
<rect x="207.6" y="236.9" width="6.5" height="6.5" fill="none" stroke="#000" stroke-width="2.3"/>
<rect x="208.7" y="247.4" width="6.5" height="6.5" fill="none" stroke="#000" stroke-width="2.3"/>
<rect x="209.8" y="243.8" width="6.5" height="6.5" fill="none" stroke="#000" stroke-width="2.3"/>
<rect x="210.8" y="239.5" width="6.5" height="6.5" fill="none" stroke="#000" stroke-width="2.3"/>
<rect x="211.8" y="256.9" width="6.5" height="6.5" fill="none" stroke="#000" stroke-width="2.3"/>
<rect x="212.8" y="254.4" width="6.5" height="6.5" fill="none" stroke="#000" stroke-width="2.3"/>
<rect x="213.5" y="240.3" width="6.5" height="6.5" fill="none" stroke="#000" stroke-width="2.3"/>
<rect x="213.8" y="251.3" width="6.5" height="6.5" fill="none" stroke="#000" stroke-width="2.3"/>
<rect x="214.1" y="255" width="6.5" height="6.5" fill="none" stroke="#000" stroke-width="2.3"/>
<rect x="214.4" y="276.3" width="6.5" height="6.5" fill="none" stroke="#000" stroke-width="2.3"/>
<rect x="214.7" y="276.1" width="6.5" height="6.5" fill="none" stroke="#000" stroke-width="2.3"/>
<rect x="215" y="256.5" width="6.5" height="6.5" fill="none" stroke="#000" stroke-width="2.3"/>
<rect x="215.3" y="305.4" width="6.5" height="6.5" fill="none" stroke="#000" stroke-width="2.3"/>
<rect x="215.6" y="251.3" width="6.5" height="6.5" fill="none" stroke="#000" stroke-width="2.3"/>
<rect x="215.9" y="275.7" width="6.5" height="6.5" fill="none" stroke="#000" stroke-width="2.3"/>
<rect x="216.2" y="301.7" width="6.5" height="6.5" fill="none" stroke="#000" stroke-width="2.3"/>
<rect x="216.4" y="256.6" width="6.5" height="6.5" fill="none" stroke="#000" stroke-width="2.3"/>
<rect x="216.7" y="282.3" width="6.5" height="6.5" fill="none" stroke="#000" stroke-width="2.3"/>
<rect x="217" y="249.4" width="6.5" height="6.5" fill="none" stroke="#000" stroke-width="2.3"/>
<rect x="217.3" y="296.3" width="6.5" height="6.5" fill="none" stroke="#000" stroke-width="2.3"/>
<rect x="217.6" y="303.6" width="6.5" height="6.5" fill="none" stroke="#000" stroke-width="2.3"/>
<rect x="217.8" y="290" width="6.5" height="6.5" fill="none" stroke="#000" stroke-width="2.3"/>
<rect x="218.1" y="312.2" width="6.5" height="6.5" fill="none" stroke="#000" stroke-width="2.3"/>
<rect x="218.4" y="272" width="6.5" height="6.5" fill="none" stroke="#000" stroke-width="2.3"/>
<rect x="218.6" y="299.7" width="6.5" height="6.5" fill="none" stroke="#000" stroke-width="2.3"/>
<rect x="218.9" y="292.9" width="6.5" height="6.5" fill="none" stroke="#000" stroke-width="2.3"/>
<rect x="219.2" y="292.2" width="6.5" height="6.5" fill="none" stroke="#000" stroke-width="2.3"/>
<rect x="219.4" y="283.8" width="6.5" height="6.5" fill="none" stroke="#000" stroke-width="2.3"/>
<rect x="219.7" y="311" width="6.5" height="6.5" fill="none" stroke="#000" stroke-width="2.3"/>
<rect x="219.9" y="318.4" width="6.5" height="6.5" fill="none" stroke="#000" stroke-width="2.3"/>
<rect x="220.2" y="286.2" width="6.5" height="6.5" fill="none" stroke="#000" stroke-width="2.3"/>
<rect x="220.4" y="299.6" width="6.5" height="6.5" fill="none" stroke="#000" stroke-width="2.3"/>
<rect x="220.7" y="258.8" width="6.5" height="6.5" fill="none" stroke="#000" stroke-width="2.3"/>
<rect x="220.9" y="302.6" width="6.5" height="6.5" fill="none" stroke="#000" stroke-width="2.3"/>
<rect x="221.2" y="299.2" width="6.5" height="6.5" fill="none" stroke="#000" stroke-width="2.3"/>
<rect x="221.4" y="322.2" width="6.5" height="6.5" fill="none" stroke="#000" stroke-width="2.3"/>
<rect x="221.7" y="311" width="6.5" height="6.5" fill="none" stroke="#000" stroke-width="2.3"/>
<rect x="221.9" y="276.9" width="6.5" height="6.5" fill="none" stroke="#000" stroke-width="2.3"/>
<rect x="222.1" y="283.8" width="6.5" height="6.5" fill="none" stroke="#000" stroke-width="2.3"/>
<rect x="222.4" y="301.8" width="6.5" height="6.5" fill="none" stroke="#000" stroke-width="2.3"/>
<rect x="222.6" y="262.5" width="6.5" height="6.5" fill="none" stroke="#000" stroke-width="2.3"/>
<rect x="222.9" y="289.8" width="6.5" height="6.5" fill="none" stroke="#000" stroke-width="2.3"/>
<rect x="223.1" y="272.7" width="6.5" height="6.5" fill="none" stroke="#000" stroke-width="2.3"/>
<rect x="223.3" y="270.4" width="6.5" height="6.5" fill="none" stroke="#000" stroke-width="2.3"/>
<rect x="223.5" y="267.7" width="6.5" height="6.5" fill="none" stroke="#000" stroke-width="2.3"/>
<rect x="223.8" y="308.9" width="6.5" height="6.5" fill="none" stroke="#000" stroke-width="2.3"/>
<rect x="224" y="273.1" width="6.5" height="6.5" fill="none" stroke="#000" stroke-width="2.3"/>
<rect x="224.2" y="280.3" width="6.5" height="6.5" fill="none" stroke="#000" stroke-width="2.3"/>
<rect x="224.4" y="288.7" width="6.5" height="6.5" fill="none" stroke="#000" stroke-width="2.3"/>
<rect x="224.7" y="315" width="6.5" height="6.5" fill="none" stroke="#000" stroke-width="2.3"/>
<rect x="224.9" y="273.1" width="6.5" height="6.5" fill="none" stroke="#000" stroke-width="2.3"/>
<rect x="225.1" y="293" width="6.5" height="6.5" fill="none" stroke="#000" stroke-width="2.3"/>
<rect x="225.3" y="298.6" width="6.5" height="6.5" fill="none" stroke="#000" stroke-width="2.3"/>
<rect x="225.5" y="315.9" width="6.5" height="6.5" fill="none" stroke="#000" stroke-width="2.3"/>
<rect x="225.7" y="312.7" width="6.5" height="6.5" fill="none" stroke="#000" stroke-width="2.3"/>
<rect x="225.9" y="314.9" width="6.5" height="6.5" fill="none" stroke="#000" stroke-width="2.3"/>
<rect x="200.8" y="271.6" width="6.5" height="6.5" fill="#fff" stroke="#000" stroke-width="2.3"/>
<rect x="214.6" y="268.6" width="6.5" height="6.5" fill="#fff" stroke="#000" stroke-width="2.3"/>
<rect x="219.6" y="260.6" width="6.5" height="6.5" fill="#fff" stroke="#000" stroke-width="2.3"/>
<rect x="220.6" y="248.8" width="6.5" height="6.5" fill="#fff" stroke="#000" stroke-width="2.3"/>
<rect x="224.4" y="267.6" width="6.5" height="6.5" fill="#fff" stroke="#000" stroke-width="2.3"/>
<rect x="225.4" y="276.4" width="6.5" height="6.5" fill="#fff" stroke="#000" stroke-width="2.3"/>
<rect x="226.4" y="293.2" width="6.5" height="6.5" fill="#fff" stroke="#000" stroke-width="2.3"/>
<rect x="225.4" y="300.2" width="6.5" height="6.5" fill="#fff" stroke="#000" stroke-width="2.3"/>
<rect x="225.4" y="310.1" width="6.5" height="6.5" fill="#fff" stroke="#000" stroke-width="2.3"/>
<polyline fill="none" stroke="#f00" stroke-width="1.8" stroke-linejoin="round" points="72.4,337 94.1,332.6 106.8,336.1 115.8,339.2 122.8,340.2 128.5,344.8 133.4,342.5 137.6,345.6 141.2,337.2 144.6,338.9 147.5,340.9 150.3,340.1 152.8,348 155.1,349.2 157.3,337 159.3,337.4 161.2,338.2 163,338.2 164.7,342.2 166.3,343.9 167.8,338.7 169.3,334.5 170.6,341.3 172,340.5 173.3,343.8 174.5,350.3 175.7,345.9 176.8,343 177.9,344.8 179,345.8 181,335.1 182.9,349.8 184.7,347.8 186.4,349.6 188,348.3 189.5,341.1 191,341.2 192.4,335.5 193.7,346.1 195,334.3 196.2,334.2 197.4,337.2 198.5,336 199.6,340.2 200.7,333 201.7,331.1 202.7,334.8 203.7,333 204.6,340.4 205.5,330 206.4,356.5 207.3,348.5 208.1,333 208.9,336.3 209.7,339.5 210.5,340.2 211.2,331.4 212,358.4 212.7,364.1 213.4,344.4 214.1,345.2 214.8,329.9 215.4,330.5 216.1,340 216.7,336.9 217,359.6 217.3,332.8 217.6,327.2 217.9,365 218.2,347.8 218.5,332.2 218.8,348.5 219.1,327.2 219.4,348.1 219.7,366.9 220,362.2 220.3,355.1 220.5,336.8 220.8,341.2 221.1,332.8 221.4,357.7 221.6,347.8 221.9,357.7 222.2,339.3 222.4,334.9 222.7,358.7 222.9,365.5 223.2,360 223.4,358 223.7,358.4 223.9,355.1 224.2,334.6 224.4,346.1 224.7,339.6 224.9,326.7 225.2,326.6 225.4,336.4 225.6,335.6 225.9,352.3 226.1,362.4 226.3,342.7 226.6,361.4 226.8,363.2 227,361.8 227.2,339.2 227.5,333.7 227.7,333.9 227.9,332.7 228.1,332.9 228.3,348.6 228.6,358.8 228.8,356.5 229,343 229.2,349.3 229.4,354.6 229.6,328.2 229.8,349.3 230,358.3 230.2,353.6 230.4,352.3 230.6,342.3"/>
<circle cx="72.4" cy="337" r="3.7" fill="#fff" stroke="#f00" stroke-width="2.6"/>
<circle cx="94.1" cy="332.6" r="3.7" fill="#fff" stroke="#f00" stroke-width="2.6"/>
<circle cx="106.8" cy="336.1" r="3.7" fill="#fff" stroke="#f00" stroke-width="2.6"/>
<circle cx="115.8" cy="339.2" r="3.7" fill="#fff" stroke="#f00" stroke-width="2.6"/>
<circle cx="122.8" cy="340.2" r="3.7" fill="#fff" stroke="#f00" stroke-width="2.6"/>
<circle cx="128.5" cy="344.8" r="3.7" fill="#fff" stroke="#f00" stroke-width="2.6"/>
<circle cx="133.4" cy="342.5" r="3.7" fill="#fff" stroke="#f00" stroke-width="2.6"/>
<circle cx="137.6" cy="345.6" r="3.7" fill="#fff" stroke="#f00" stroke-width="2.6"/>
<circle cx="141.2" cy="337.2" r="3.7" fill="#fff" stroke="#f00" stroke-width="2.6"/>
<circle cx="144.6" cy="338.9" r="3.7" fill="#fff" stroke="#f00" stroke-width="2.6"/>
<circle cx="147.5" cy="340.9" r="3.7" fill="#fff" stroke="#f00" stroke-width="2.6"/>
<circle cx="150.3" cy="340.1" r="3.7" fill="#fff" stroke="#f00" stroke-width="2.6"/>
<circle cx="152.8" cy="348" r="3.7" fill="none" stroke="#f00" stroke-width="2.6"/>
<circle cx="155.1" cy="349.2" r="3.7" fill="none" stroke="#f00" stroke-width="2.6"/>
<circle cx="157.3" cy="337" r="3.7" fill="none" stroke="#f00" stroke-width="2.6"/>
<circle cx="159.3" cy="337.4" r="3.7" fill="none" stroke="#f00" stroke-width="2.6"/>
<circle cx="161.2" cy="338.2" r="3.7" fill="none" stroke="#f00" stroke-width="2.6"/>
<circle cx="163" cy="338.2" r="3.7" fill="none" stroke="#f00" stroke-width="2.6"/>
<circle cx="164.7" cy="342.2" r="3.7" fill="none" stroke="#f00" stroke-width="2.6"/>
<circle cx="166.3" cy="343.9" r="3.7" fill="none" stroke="#f00" stroke-width="2.6"/>
<circle cx="167.8" cy="338.7" r="3.7" fill="none" stroke="#f00" stroke-width="2.6"/>
<circle cx="169.3" cy="334.5" r="3.7" fill="none" stroke="#f00" stroke-width="2.6"/>
<circle cx="170.6" cy="341.3" r="3.7" fill="none" stroke="#f00" stroke-width="2.6"/>
<circle cx="172" cy="340.5" r="3.7" fill="none" stroke="#f00" stroke-width="2.6"/>
<circle cx="173.3" cy="343.8" r="3.7" fill="none" stroke="#f00" stroke-width="2.6"/>
<circle cx="174.5" cy="350.3" r="3.7" fill="none" stroke="#f00" stroke-width="2.6"/>
<circle cx="175.7" cy="345.9" r="3.7" fill="none" stroke="#f00" stroke-width="2.6"/>
<circle cx="176.8" cy="343" r="3.7" fill="none" stroke="#f00" stroke-width="2.6"/>
<circle cx="177.9" cy="344.8" r="3.7" fill="none" stroke="#f00" stroke-width="2.6"/>
<circle cx="179" cy="345.8" r="3.7" fill="none" stroke="#f00" stroke-width="2.6"/>
<circle cx="181" cy="335.1" r="3.7" fill="none" stroke="#f00" stroke-width="2.6"/>
<circle cx="182.9" cy="349.8" r="3.7" fill="none" stroke="#f00" stroke-width="2.6"/>
<circle cx="184.7" cy="347.8" r="3.7" fill="none" stroke="#f00" stroke-width="2.6"/>
<circle cx="186.4" cy="349.6" r="3.7" fill="none" stroke="#f00" stroke-width="2.6"/>
<circle cx="188" cy="348.3" r="3.7" fill="none" stroke="#f00" stroke-width="2.6"/>
<circle cx="189.5" cy="341.1" r="3.7" fill="none" stroke="#f00" stroke-width="2.6"/>
<circle cx="191" cy="341.2" r="3.7" fill="none" stroke="#f00" stroke-width="2.6"/>
<circle cx="192.4" cy="335.5" r="3.7" fill="none" stroke="#f00" stroke-width="2.6"/>
<circle cx="193.7" cy="346.1" r="3.7" fill="none" stroke="#f00" stroke-width="2.6"/>
<circle cx="195" cy="334.3" r="3.7" fill="none" stroke="#f00" stroke-width="2.6"/>
<circle cx="196.2" cy="334.2" r="3.7" fill="none" stroke="#f00" stroke-width="2.6"/>
<circle cx="197.4" cy="337.2" r="3.7" fill="none" stroke="#f00" stroke-width="2.6"/>
<circle cx="198.5" cy="336" r="3.7" fill="none" stroke="#f00" stroke-width="2.6"/>
<circle cx="199.6" cy="340.2" r="3.7" fill="none" stroke="#f00" stroke-width="2.6"/>
<circle cx="200.7" cy="333" r="3.7" fill="none" stroke="#f00" stroke-width="2.6"/>
<circle cx="201.7" cy="331.1" r="3.7" fill="none" stroke="#f00" stroke-width="2.6"/>
<circle cx="202.7" cy="334.8" r="3.7" fill="none" stroke="#f00" stroke-width="2.6"/>
<circle cx="203.7" cy="333" r="3.7" fill="none" stroke="#f00" stroke-width="2.6"/>
<circle cx="204.6" cy="340.4" r="3.7" fill="none" stroke="#f00" stroke-width="2.6"/>
<circle cx="205.5" cy="330" r="3.7" fill="none" stroke="#f00" stroke-width="2.6"/>
<circle cx="206.4" cy="356.5" r="3.7" fill="none" stroke="#f00" stroke-width="2.6"/>
<circle cx="207.3" cy="348.5" r="3.7" fill="none" stroke="#f00" stroke-width="2.6"/>
<circle cx="208.1" cy="333" r="3.7" fill="none" stroke="#f00" stroke-width="2.6"/>
<circle cx="208.9" cy="336.3" r="3.7" fill="none" stroke="#f00" stroke-width="2.6"/>
<circle cx="209.7" cy="339.5" r="3.7" fill="none" stroke="#f00" stroke-width="2.6"/>
<circle cx="210.5" cy="340.2" r="3.7" fill="none" stroke="#f00" stroke-width="2.6"/>
<circle cx="211.2" cy="331.4" r="3.7" fill="none" stroke="#f00" stroke-width="2.6"/>
<circle cx="212" cy="358.4" r="3.7" fill="none" stroke="#f00" stroke-width="2.6"/>
<circle cx="212.7" cy="364.1" r="3.7" fill="none" stroke="#f00" stroke-width="2.6"/>
<circle cx="213.4" cy="344.4" r="3.7" fill="none" stroke="#f00" stroke-width="2.6"/>
<circle cx="214.1" cy="345.2" r="3.7" fill="none" stroke="#f00" stroke-width="2.6"/>
<circle cx="214.8" cy="329.9" r="3.7" fill="none" stroke="#f00" stroke-width="2.6"/>
<circle cx="215.4" cy="330.5" r="3.7" fill="none" stroke="#f00" stroke-width="2.6"/>
<circle cx="216.1" cy="340" r="3.7" fill="none" stroke="#f00" stroke-width="2.6"/>
<circle cx="216.7" cy="336.9" r="3.7" fill="none" stroke="#f00" stroke-width="2.6"/>
<circle cx="217" cy="359.6" r="3.7" fill="none" stroke="#f00" stroke-width="2.6"/>
<circle cx="217.3" cy="332.8" r="3.7" fill="none" stroke="#f00" stroke-width="2.6"/>
<circle cx="217.6" cy="327.2" r="3.7" fill="none" stroke="#f00" stroke-width="2.6"/>
<circle cx="217.9" cy="365" r="3.7" fill="none" stroke="#f00" stroke-width="2.6"/>
<circle cx="218.2" cy="347.8" r="3.7" fill="none" stroke="#f00" stroke-width="2.6"/>
<circle cx="218.5" cy="332.2" r="3.7" fill="none" stroke="#f00" stroke-width="2.6"/>
<circle cx="218.8" cy="348.5" r="3.7" fill="none" stroke="#f00" stroke-width="2.6"/>
<circle cx="219.1" cy="327.2" r="3.7" fill="none" stroke="#f00" stroke-width="2.6"/>
<circle cx="219.4" cy="348.1" r="3.7" fill="none" stroke="#f00" stroke-width="2.6"/>
<circle cx="219.7" cy="366.9" r="3.7" fill="none" stroke="#f00" stroke-width="2.6"/>
<circle cx="220" cy="362.2" r="3.7" fill="none" stroke="#f00" stroke-width="2.6"/>
<circle cx="220.3" cy="355.1" r="3.7" fill="none" stroke="#f00" stroke-width="2.6"/>
<circle cx="220.5" cy="336.8" r="3.7" fill="none" stroke="#f00" stroke-width="2.6"/>
<circle cx="220.8" cy="341.2" r="3.7" fill="none" stroke="#f00" stroke-width="2.6"/>
<circle cx="221.1" cy="332.8" r="3.7" fill="none" stroke="#f00" stroke-width="2.6"/>
<circle cx="221.4" cy="357.7" r="3.7" fill="none" stroke="#f00" stroke-width="2.6"/>
<circle cx="221.6" cy="347.8" r="3.7" fill="none" stroke="#f00" stroke-width="2.6"/>
<circle cx="221.9" cy="357.7" r="3.7" fill="none" stroke="#f00" stroke-width="2.6"/>
<circle cx="222.2" cy="339.3" r="3.7" fill="none" stroke="#f00" stroke-width="2.6"/>
<circle cx="222.4" cy="334.9" r="3.7" fill="none" stroke="#f00" stroke-width="2.6"/>
<circle cx="222.7" cy="358.7" r="3.7" fill="none" stroke="#f00" stroke-width="2.6"/>
<circle cx="222.9" cy="365.5" r="3.7" fill="none" stroke="#f00" stroke-width="2.6"/>
<circle cx="223.2" cy="360" r="3.7" fill="none" stroke="#f00" stroke-width="2.6"/>
<circle cx="223.4" cy="358" r="3.7" fill="none" stroke="#f00" stroke-width="2.6"/>
<circle cx="223.7" cy="358.4" r="3.7" fill="none" stroke="#f00" stroke-width="2.6"/>
<circle cx="223.9" cy="355.1" r="3.7" fill="none" stroke="#f00" stroke-width="2.6"/>
<circle cx="224.2" cy="334.6" r="3.7" fill="none" stroke="#f00" stroke-width="2.6"/>
<circle cx="224.4" cy="346.1" r="3.7" fill="none" stroke="#f00" stroke-width="2.6"/>
<circle cx="224.7" cy="339.6" r="3.7" fill="none" stroke="#f00" stroke-width="2.6"/>
<circle cx="224.9" cy="326.7" r="3.7" fill="none" stroke="#f00" stroke-width="2.6"/>
<circle cx="225.2" cy="326.6" r="3.7" fill="none" stroke="#f00" stroke-width="2.6"/>
<circle cx="225.4" cy="336.4" r="3.7" fill="none" stroke="#f00" stroke-width="2.6"/>
<circle cx="225.6" cy="335.6" r="3.7" fill="none" stroke="#f00" stroke-width="2.6"/>
<circle cx="225.9" cy="352.3" r="3.7" fill="none" stroke="#f00" stroke-width="2.6"/>
<circle cx="226.1" cy="362.4" r="3.7" fill="none" stroke="#f00" stroke-width="2.6"/>
<circle cx="226.3" cy="342.7" r="3.7" fill="none" stroke="#f00" stroke-width="2.6"/>
<circle cx="226.6" cy="361.4" r="3.7" fill="none" stroke="#f00" stroke-width="2.6"/>
<circle cx="226.8" cy="363.2" r="3.7" fill="none" stroke="#f00" stroke-width="2.6"/>
<circle cx="227" cy="361.8" r="3.7" fill="none" stroke="#f00" stroke-width="2.6"/>
<circle cx="227.2" cy="339.2" r="3.7" fill="none" stroke="#f00" stroke-width="2.6"/>
<circle cx="227.5" cy="333.7" r="3.7" fill="none" stroke="#f00" stroke-width="2.6"/>
<circle cx="227.7" cy="333.9" r="3.7" fill="none" stroke="#f00" stroke-width="2.6"/>
<circle cx="227.9" cy="332.7" r="3.7" fill="none" stroke="#f00" stroke-width="2.6"/>
<circle cx="228.1" cy="332.9" r="3.7" fill="none" stroke="#f00" stroke-width="2.6"/>
<circle cx="228.3" cy="348.6" r="3.7" fill="none" stroke="#f00" stroke-width="2.6"/>
<circle cx="228.6" cy="358.8" r="3.7" fill="none" stroke="#f00" stroke-width="2.6"/>
<circle cx="228.8" cy="356.5" r="3.7" fill="none" stroke="#f00" stroke-width="2.6"/>
<circle cx="229" cy="343" r="3.7" fill="none" stroke="#f00" stroke-width="2.6"/>
<circle cx="229.2" cy="349.3" r="3.7" fill="none" stroke="#f00" stroke-width="2.6"/>
<circle cx="229.4" cy="354.6" r="3.7" fill="none" stroke="#f00" stroke-width="2.6"/>
<circle cx="229.6" cy="328.2" r="3.7" fill="none" stroke="#f00" stroke-width="2.6"/>
<circle cx="229.8" cy="349.3" r="3.7" fill="none" stroke="#f00" stroke-width="2.6"/>
<circle cx="230" cy="358.3" r="3.7" fill="#fff" stroke="#f00" stroke-width="2.6"/>
<circle cx="230.2" cy="353.6" r="3.7" fill="#fff" stroke="#f00" stroke-width="2.6"/>
<circle cx="230.4" cy="352.3" r="3.7" fill="#fff" stroke="#f00" stroke-width="2.6"/>
<circle cx="230.6" cy="342.3" r="3.7" fill="#fff" stroke="#f00" stroke-width="2.6"/>
<path d="M58.1 211.2H259.6V373.3H58.1Z" fill="none" stroke="#000" stroke-width="1.4"/>
<line x1="72.4" y1="373.3" x2="72.4" y2="369.3" stroke="#000" stroke-width="1.1"/>
<line x1="108.5" y1="373.3" x2="108.5" y2="371.1" stroke="#000" stroke-width="1.1"/>
<line x1="144.6" y1="373.3" x2="144.6" y2="369.3" stroke="#000" stroke-width="1.1"/>
<line x1="180.6" y1="373.3" x2="180.6" y2="371.1" stroke="#000" stroke-width="1.1"/>
<line x1="216.7" y1="373.3" x2="216.7" y2="369.3" stroke="#000" stroke-width="1.1"/>
<line x1="252.8" y1="373.3" x2="252.8" y2="371.1" stroke="#000" stroke-width="1.1"/>
<text x="72.4" y="386.3" font-family="Liberation Serif" font-size="12.3" font-weight="bold" text-anchor="middle" fill="#000">6</text>
<text x="144.6" y="386.3" font-family="Liberation Serif" font-size="12.3" font-weight="bold" text-anchor="middle" fill="#000">7</text>
<text x="216.7" y="386.3" font-family="Liberation Serif" font-size="12.3" font-weight="bold" text-anchor="middle" fill="#000">8</text>
<line x1="58.1" y1="373.3" x2="62.1" y2="373.3" stroke="#000" stroke-width="1.1"/>
<line x1="58.1" y1="359.8" x2="60.3" y2="359.8" stroke="#000" stroke-width="1.1"/>
<line x1="58.1" y1="346.3" x2="62.1" y2="346.3" stroke="#000" stroke-width="1.1"/>
<line x1="58.1" y1="332.8" x2="60.3" y2="332.8" stroke="#000" stroke-width="1.1"/>
<line x1="58.1" y1="319.3" x2="62.1" y2="319.3" stroke="#000" stroke-width="1.1"/>
<line x1="58.1" y1="305.8" x2="60.3" y2="305.8" stroke="#000" stroke-width="1.1"/>
<line x1="58.1" y1="292.3" x2="62.1" y2="292.3" stroke="#000" stroke-width="1.1"/>
<line x1="58.1" y1="278.7" x2="60.3" y2="278.7" stroke="#000" stroke-width="1.1"/>
<line x1="58.1" y1="265.2" x2="62.1" y2="265.2" stroke="#000" stroke-width="1.1"/>
<line x1="58.1" y1="251.7" x2="60.3" y2="251.7" stroke="#000" stroke-width="1.1"/>
<line x1="58.1" y1="238.2" x2="62.1" y2="238.2" stroke="#000" stroke-width="1.1"/>
<line x1="58.1" y1="224.7" x2="60.3" y2="224.7" stroke="#000" stroke-width="1.1"/>
<line x1="58.1" y1="211.2" x2="62.1" y2="211.2" stroke="#000" stroke-width="1.1"/>
<text x="54.1" y="377.3" font-family="Liberation Serif" font-size="12.3" font-weight="bold" text-anchor="end" fill="#000">4.0</text>
<text x="54.1" y="350.3" font-family="Liberation Serif" font-size="12.3" font-weight="bold" text-anchor="end" fill="#000">4.5</text>
<text x="54.1" y="323.3" font-family="Liberation Serif" font-size="12.3" font-weight="bold" text-anchor="end" fill="#000">5.0</text>
<text x="54.1" y="296.3" font-family="Liberation Serif" font-size="12.3" font-weight="bold" text-anchor="end" fill="#000">5.5</text>
<text x="54.1" y="269.2" font-family="Liberation Serif" font-size="12.3" font-weight="bold" text-anchor="end" fill="#000">6.0</text>
<text x="54.1" y="242.2" font-family="Liberation Serif" font-size="12.3" font-weight="bold" text-anchor="end" fill="#000">6.5</text>
<text x="54.1" y="215.2" font-family="Liberation Serif" font-size="12.3" font-weight="bold" text-anchor="end" fill="#000">7.0</text>
<text x="152.8" y="399.1" font-family="Liberation Serif" font-size="12.5" font-weight="bold" text-anchor="middle" fill="#000">Log(Cycle_Number)</text>
<text x="32.3" y="291.4" font-family="Liberation Serif" font-size="12.9" font-weight="bold" text-anchor="middle" fill="#000" transform="rotate(-90 32.3 291.4)">Log(Resistance)</text>
<text x="3.8" y="218.8" font-family="Liberation Serif" font-size="17.2" font-weight="normal" text-anchor="start" fill="#000">(c)</text>
<line x1="68.4" y1="279.8" x2="98.2" y2="279.8" stroke="#000" stroke-width="1.9"/>
<rect x="80.5" y="276.6" width="6.5" height="6.5" fill="#fff" stroke="#000" stroke-width="2.3"/>
<line x1="68.4" y1="294.8" x2="98.2" y2="294.8" stroke="#f00" stroke-width="1.9"/>
<circle cx="83.7" cy="294.8" r="3.7" fill="#fff" stroke="#f00" stroke-width="2.6"/>
<text x="100.8" y="283.9" font-family="Liberation Serif" font-size="13" font-weight="normal" text-anchor="start" fill="#000">Reset</text>
<text x="100.8" y="299" font-family="Liberation Serif" font-size="13" font-weight="normal" text-anchor="start" fill="#000">Set</text>
<polyline fill="none" stroke="#000" stroke-width="1.8" stroke-linejoin="round" points="341.5,231 356.7,232 365.5,233.9 371.8,221.1 376.7,236.8 380.7,240.6 384.1,232 387,239.6 389.6,226 391.9,223.4 394,229.7 395.9,232 397.6,238.8 399.3,231.2 400.8,232.2 402.2,233.7 403.5,226.3 404.8,232.5 405.9,234.8 407.1,238 408.1,224.4 409.2,228.6 410.1,224.3 411.1,238.8 412,236.5 412.8,223.2 413.6,242.7 414.4,242.4 415.2,236 415.9,235.2 417.4,225.5 418.7,222.4 419.9,233.6 421.1,223.2 422.2,226.1 423.3,227.3 424.3,222.3 425.3,232.7 426.2,232.2 427.1,242.2 428,234.3 428.8,237.5 429.6,234 430.4,238.3 431.1,233 431.8,228.4 432.5,247.1 433.2,247.1 433.9,243.1 434.5,239.8 435.1,229.8 435.7,227.6 436.3,229.2 436.9,223.7 437.4,241.5 438,232.3 438.5,243.7 439,232 439.5,246.6 440,243.8 440.5,222.4 440.9,227.8 441.4,245.5 441.9,234.4 442.3,247.3 442.9,232.7 443.6,224.6 444.2,238.7 444.8,242.4 445.4,229.8 445.9,225.3 446.5,231.5 447,247.2 447.5,242.2 448,226.3 448.5,229.6 449,226 449.5,225.1 450,243.3 450.4,228.1 450.9,237.5 451.3,234.8 451.8,228.6 452.2,241.9 452.6,227.2 453,239.8 453.4,227 453.8,234.4 454.2,229.4 454.5,230.8 454.9,248 455.3,243.9 455.6,231.8 456,245.9 456.3,229.6 456.7,234.1 457,245.3 457.4,240.2 457.7,227.1 458,248.6 458.3,229.9 458.6,231 459,243.5 459.3,232.8 459.6,232.1 459.9,226.7 460.1,227.2 460.4,239.2 460.7,231 461,239.9 461.3,234.3 461.6,236.5 461.8,249.3 462.1,237.4 462.4,239.8 462.6,247.4 462.9,230 463.1,229.3 463.4,249 463.6,246.8 463.9,232 464.1,230.4 464.4,245.1 464.6,250.6 464.8,230.8 465.1,251.2 465.3,249.5 465.5,242 465.8,237.1 466,228.5 466.2,226.7 466.4,252.5 466.6,232.3 466.9,245.5 467.1,233 467.3,249.1 467.5,242.7 467.7,234.2 467.9,230.8 468.1,246.6 468.3,227.8 468.5,232.5 468.7,242.2 468.9,250.9 469.1,244 469.3,234.2 469.5,253.2 469.7,232 469.8,226.5 470,234.1 470.2,239.4 470.4,227.8 470.6,231.3 470.8,237.1 470.9,243.3 471.1,230 471.3,237 471.5,253 471.6,255.7 471.8,245.9 472,247 472.1,243.8 472.3,230.3 472.5,227.1 472.6,226.5 472.8,253.8 473,247.4 473.1,255.5 473.3,226.7 473.4,245.5 473.6,240.8 473.8,248.5 473.9,235.8 474.1,256.8 474.2,228.3 474.4,242.9 474.5,248.8 474.7,253.8 474.8,248.8 475,247.8 475.1,250.6 475.3,254.4 475.4,236.9 475.6,247.3 475.7,254.1 475.8,253.2 476,239 476.1,250.7 476.3,253 476.4,243.9 476.5,245.6 476.7,238 476.8,244.3 477,245.1 477.1,228.5 477.2,246.1 477.4,257.3 477.5,253.7 477.6,249 477.7,238.3 477.9,249.2 478,244.4 478.1,239.9 478.3,252.5 478.4,228.7 478.5,249.8 478.6,226.9 478.8,245.1 478.9,241.3 479,233.3 479.1,248.2 479.3,241.8 479.4,245.6 479.5,255.4 479.6,234.2 479.7,226.4 479.9,235.6 480,247.7 466.2,258.5 472.4,258.5 478.5,252 483,258 479.5,266 484,274 480,283 484.5,291 479.5,299 484,306 480,313 483.5,317"/>
<rect x="338.2" y="227.8" width="6.5" height="6.5" fill="#fff" stroke="#000" stroke-width="2.3"/>
<rect x="353.4" y="228.8" width="6.5" height="6.5" fill="#fff" stroke="#000" stroke-width="2.3"/>
<rect x="362.3" y="230.7" width="6.5" height="6.5" fill="#fff" stroke="#000" stroke-width="2.3"/>
<rect x="368.6" y="217.8" width="6.5" height="6.5" fill="#fff" stroke="#000" stroke-width="2.3"/>
<rect x="373.5" y="233.6" width="6.5" height="6.5" fill="#fff" stroke="#000" stroke-width="2.3"/>
<rect x="377.5" y="237.3" width="6.5" height="6.5" fill="#fff" stroke="#000" stroke-width="2.3"/>
<rect x="380.8" y="228.8" width="6.5" height="6.5" fill="#fff" stroke="#000" stroke-width="2.3"/>
<rect x="383.8" y="236.3" width="6.5" height="6.5" fill="#fff" stroke="#000" stroke-width="2.3"/>
<rect x="386.3" y="222.8" width="6.5" height="6.5" fill="#fff" stroke="#000" stroke-width="2.3"/>
<rect x="388.6" y="220.2" width="6.5" height="6.5" fill="#fff" stroke="#000" stroke-width="2.3"/>
<rect x="390.7" y="226.5" width="6.5" height="6.5" fill="#fff" stroke="#000" stroke-width="2.3"/>
<rect x="392.6" y="228.7" width="6.5" height="6.5" fill="#fff" stroke="#000" stroke-width="2.3"/>
<rect x="394.4" y="235.5" width="6.5" height="6.5" fill="#fff" stroke="#000" stroke-width="2.3"/>
<rect x="396" y="228" width="6.5" height="6.5" fill="#fff" stroke="#000" stroke-width="2.3"/>
<rect x="397.5" y="228.9" width="6.5" height="6.5" fill="none" stroke="#000" stroke-width="2.3"/>
<rect x="398.9" y="230.5" width="6.5" height="6.5" fill="none" stroke="#000" stroke-width="2.3"/>
<rect x="400.3" y="223" width="6.5" height="6.5" fill="none" stroke="#000" stroke-width="2.3"/>
<rect x="401.5" y="229.2" width="6.5" height="6.5" fill="none" stroke="#000" stroke-width="2.3"/>
<rect x="402.7" y="231.5" width="6.5" height="6.5" fill="none" stroke="#000" stroke-width="2.3"/>
<rect x="403.8" y="234.8" width="6.5" height="6.5" fill="none" stroke="#000" stroke-width="2.3"/>
<rect x="404.9" y="221.2" width="6.5" height="6.5" fill="none" stroke="#000" stroke-width="2.3"/>
<rect x="405.9" y="225.3" width="6.5" height="6.5" fill="none" stroke="#000" stroke-width="2.3"/>
<rect x="406.9" y="221.1" width="6.5" height="6.5" fill="none" stroke="#000" stroke-width="2.3"/>
<rect x="407.8" y="235.6" width="6.5" height="6.5" fill="none" stroke="#000" stroke-width="2.3"/>
<rect x="408.7" y="233.3" width="6.5" height="6.5" fill="none" stroke="#000" stroke-width="2.3"/>
<rect x="409.6" y="220" width="6.5" height="6.5" fill="none" stroke="#000" stroke-width="2.3"/>
<rect x="410.4" y="239.4" width="6.5" height="6.5" fill="none" stroke="#000" stroke-width="2.3"/>
<rect x="411.2" y="239.2" width="6.5" height="6.5" fill="none" stroke="#000" stroke-width="2.3"/>
<rect x="412" y="232.7" width="6.5" height="6.5" fill="none" stroke="#000" stroke-width="2.3"/>
<rect x="412.7" y="232" width="6.5" height="6.5" fill="none" stroke="#000" stroke-width="2.3"/>
<rect x="414.1" y="222.3" width="6.5" height="6.5" fill="none" stroke="#000" stroke-width="2.3"/>
<rect x="415.4" y="219.1" width="6.5" height="6.5" fill="none" stroke="#000" stroke-width="2.3"/>
<rect x="416.7" y="230.4" width="6.5" height="6.5" fill="none" stroke="#000" stroke-width="2.3"/>
<rect x="417.9" y="220" width="6.5" height="6.5" fill="none" stroke="#000" stroke-width="2.3"/>
<rect x="419" y="222.9" width="6.5" height="6.5" fill="none" stroke="#000" stroke-width="2.3"/>
<rect x="420.1" y="224.1" width="6.5" height="6.5" fill="none" stroke="#000" stroke-width="2.3"/>
<rect x="421.1" y="219" width="6.5" height="6.5" fill="none" stroke="#000" stroke-width="2.3"/>
<rect x="422.1" y="229.4" width="6.5" height="6.5" fill="none" stroke="#000" stroke-width="2.3"/>
<rect x="423" y="228.9" width="6.5" height="6.5" fill="none" stroke="#000" stroke-width="2.3"/>
<rect x="423.9" y="239" width="6.5" height="6.5" fill="none" stroke="#000" stroke-width="2.3"/>
<rect x="424.7" y="231" width="6.5" height="6.5" fill="none" stroke="#000" stroke-width="2.3"/>
<rect x="425.6" y="234.2" width="6.5" height="6.5" fill="none" stroke="#000" stroke-width="2.3"/>
<rect x="426.4" y="230.7" width="6.5" height="6.5" fill="none" stroke="#000" stroke-width="2.3"/>
<rect x="427.1" y="235" width="6.5" height="6.5" fill="none" stroke="#000" stroke-width="2.3"/>
<rect x="427.9" y="229.8" width="6.5" height="6.5" fill="none" stroke="#000" stroke-width="2.3"/>
<rect x="428.6" y="225.2" width="6.5" height="6.5" fill="none" stroke="#000" stroke-width="2.3"/>
<rect x="429.3" y="243.9" width="6.5" height="6.5" fill="none" stroke="#000" stroke-width="2.3"/>
<rect x="430" y="243.9" width="6.5" height="6.5" fill="none" stroke="#000" stroke-width="2.3"/>
<rect x="430.6" y="239.9" width="6.5" height="6.5" fill="none" stroke="#000" stroke-width="2.3"/>
<rect x="431.2" y="236.5" width="6.5" height="6.5" fill="none" stroke="#000" stroke-width="2.3"/>
<rect x="431.9" y="226.5" width="6.5" height="6.5" fill="none" stroke="#000" stroke-width="2.3"/>
<rect x="432.5" y="224.4" width="6.5" height="6.5" fill="none" stroke="#000" stroke-width="2.3"/>
<rect x="433" y="226" width="6.5" height="6.5" fill="none" stroke="#000" stroke-width="2.3"/>
<rect x="433.6" y="220.5" width="6.5" height="6.5" fill="none" stroke="#000" stroke-width="2.3"/>
<rect x="434.2" y="238.3" width="6.5" height="6.5" fill="none" stroke="#000" stroke-width="2.3"/>
<rect x="434.7" y="229" width="6.5" height="6.5" fill="none" stroke="#000" stroke-width="2.3"/>
<rect x="435.2" y="240.4" width="6.5" height="6.5" fill="none" stroke="#000" stroke-width="2.3"/>
<rect x="435.7" y="228.8" width="6.5" height="6.5" fill="none" stroke="#000" stroke-width="2.3"/>
<rect x="436.3" y="243.3" width="6.5" height="6.5" fill="none" stroke="#000" stroke-width="2.3"/>
<rect x="436.7" y="240.5" width="6.5" height="6.5" fill="none" stroke="#000" stroke-width="2.3"/>
<rect x="437.2" y="219.2" width="6.5" height="6.5" fill="none" stroke="#000" stroke-width="2.3"/>
<rect x="437.7" y="224.5" width="6.5" height="6.5" fill="none" stroke="#000" stroke-width="2.3"/>
<rect x="438.2" y="242.2" width="6.5" height="6.5" fill="none" stroke="#000" stroke-width="2.3"/>
<rect x="438.6" y="231.2" width="6.5" height="6.5" fill="none" stroke="#000" stroke-width="2.3"/>
<rect x="439.1" y="244.1" width="6.5" height="6.5" fill="none" stroke="#000" stroke-width="2.3"/>
<rect x="439.7" y="229.5" width="6.5" height="6.5" fill="none" stroke="#000" stroke-width="2.3"/>
<rect x="440.3" y="221.4" width="6.5" height="6.5" fill="none" stroke="#000" stroke-width="2.3"/>
<rect x="440.9" y="235.4" width="6.5" height="6.5" fill="none" stroke="#000" stroke-width="2.3"/>
<rect x="441.5" y="239.2" width="6.5" height="6.5" fill="none" stroke="#000" stroke-width="2.3"/>
<rect x="442.1" y="226.5" width="6.5" height="6.5" fill="none" stroke="#000" stroke-width="2.3"/>
<rect x="442.7" y="222" width="6.5" height="6.5" fill="none" stroke="#000" stroke-width="2.3"/>
<rect x="443.2" y="228.2" width="6.5" height="6.5" fill="none" stroke="#000" stroke-width="2.3"/>
<rect x="443.8" y="244" width="6.5" height="6.5" fill="none" stroke="#000" stroke-width="2.3"/>
<rect x="444.3" y="238.9" width="6.5" height="6.5" fill="none" stroke="#000" stroke-width="2.3"/>
<rect x="444.8" y="223.1" width="6.5" height="6.5" fill="none" stroke="#000" stroke-width="2.3"/>
<rect x="445.3" y="226.3" width="6.5" height="6.5" fill="none" stroke="#000" stroke-width="2.3"/>
<rect x="445.8" y="222.8" width="6.5" height="6.5" fill="none" stroke="#000" stroke-width="2.3"/>
<rect x="446.3" y="221.8" width="6.5" height="6.5" fill="none" stroke="#000" stroke-width="2.3"/>
<rect x="446.7" y="240.1" width="6.5" height="6.5" fill="none" stroke="#000" stroke-width="2.3"/>
<rect x="447.2" y="224.9" width="6.5" height="6.5" fill="none" stroke="#000" stroke-width="2.3"/>
<rect x="447.6" y="234.3" width="6.5" height="6.5" fill="none" stroke="#000" stroke-width="2.3"/>
<rect x="448.1" y="231.6" width="6.5" height="6.5" fill="none" stroke="#000" stroke-width="2.3"/>
<rect x="448.5" y="225.3" width="6.5" height="6.5" fill="none" stroke="#000" stroke-width="2.3"/>
<rect x="448.9" y="238.7" width="6.5" height="6.5" fill="none" stroke="#000" stroke-width="2.3"/>
<rect x="449.3" y="224" width="6.5" height="6.5" fill="none" stroke="#000" stroke-width="2.3"/>
<rect x="449.7" y="236.6" width="6.5" height="6.5" fill="none" stroke="#000" stroke-width="2.3"/>
<rect x="450.1" y="223.7" width="6.5" height="6.5" fill="none" stroke="#000" stroke-width="2.3"/>
<rect x="450.5" y="231.2" width="6.5" height="6.5" fill="none" stroke="#000" stroke-width="2.3"/>
<rect x="450.9" y="226.2" width="6.5" height="6.5" fill="none" stroke="#000" stroke-width="2.3"/>
<rect x="451.3" y="227.6" width="6.5" height="6.5" fill="none" stroke="#000" stroke-width="2.3"/>
<rect x="451.7" y="244.7" width="6.5" height="6.5" fill="none" stroke="#000" stroke-width="2.3"/>
<rect x="452" y="240.7" width="6.5" height="6.5" fill="none" stroke="#000" stroke-width="2.3"/>
<rect x="452.4" y="228.6" width="6.5" height="6.5" fill="none" stroke="#000" stroke-width="2.3"/>
<rect x="452.8" y="242.7" width="6.5" height="6.5" fill="none" stroke="#000" stroke-width="2.3"/>
<rect x="453.1" y="226.4" width="6.5" height="6.5" fill="none" stroke="#000" stroke-width="2.3"/>
<rect x="453.4" y="230.9" width="6.5" height="6.5" fill="none" stroke="#000" stroke-width="2.3"/>
<rect x="453.8" y="242" width="6.5" height="6.5" fill="none" stroke="#000" stroke-width="2.3"/>
<rect x="454.1" y="236.9" width="6.5" height="6.5" fill="none" stroke="#000" stroke-width="2.3"/>
<rect x="454.4" y="223.9" width="6.5" height="6.5" fill="none" stroke="#000" stroke-width="2.3"/>
<rect x="454.8" y="245.4" width="6.5" height="6.5" fill="none" stroke="#000" stroke-width="2.3"/>
<rect x="455.1" y="226.7" width="6.5" height="6.5" fill="none" stroke="#000" stroke-width="2.3"/>
<rect x="455.4" y="227.8" width="6.5" height="6.5" fill="none" stroke="#000" stroke-width="2.3"/>
<rect x="455.7" y="240.2" width="6.5" height="6.5" fill="none" stroke="#000" stroke-width="2.3"/>
<rect x="456" y="229.6" width="6.5" height="6.5" fill="none" stroke="#000" stroke-width="2.3"/>
<rect x="456.3" y="228.8" width="6.5" height="6.5" fill="none" stroke="#000" stroke-width="2.3"/>
<rect x="456.6" y="223.5" width="6.5" height="6.5" fill="none" stroke="#000" stroke-width="2.3"/>
<rect x="456.9" y="223.9" width="6.5" height="6.5" fill="none" stroke="#000" stroke-width="2.3"/>
<rect x="457.2" y="235.9" width="6.5" height="6.5" fill="none" stroke="#000" stroke-width="2.3"/>
<rect x="457.5" y="227.8" width="6.5" height="6.5" fill="none" stroke="#000" stroke-width="2.3"/>
<rect x="457.8" y="236.6" width="6.5" height="6.5" fill="none" stroke="#000" stroke-width="2.3"/>
<rect x="458" y="231.1" width="6.5" height="6.5" fill="none" stroke="#000" stroke-width="2.3"/>
<rect x="458.3" y="233.2" width="6.5" height="6.5" fill="none" stroke="#000" stroke-width="2.3"/>
<rect x="458.6" y="246" width="6.5" height="6.5" fill="none" stroke="#000" stroke-width="2.3"/>
<rect x="458.8" y="234.2" width="6.5" height="6.5" fill="none" stroke="#000" stroke-width="2.3"/>
<rect x="459.1" y="236.6" width="6.5" height="6.5" fill="none" stroke="#000" stroke-width="2.3"/>
<rect x="459.4" y="244.2" width="6.5" height="6.5" fill="none" stroke="#000" stroke-width="2.3"/>
<rect x="459.6" y="226.7" width="6.5" height="6.5" fill="none" stroke="#000" stroke-width="2.3"/>
<rect x="459.9" y="226.1" width="6.5" height="6.5" fill="none" stroke="#000" stroke-width="2.3"/>
<rect x="460.1" y="245.7" width="6.5" height="6.5" fill="none" stroke="#000" stroke-width="2.3"/>
<rect x="460.4" y="243.5" width="6.5" height="6.5" fill="none" stroke="#000" stroke-width="2.3"/>
<rect x="460.6" y="228.7" width="6.5" height="6.5" fill="none" stroke="#000" stroke-width="2.3"/>
<rect x="460.9" y="227.2" width="6.5" height="6.5" fill="none" stroke="#000" stroke-width="2.3"/>
<rect x="461.1" y="241.9" width="6.5" height="6.5" fill="none" stroke="#000" stroke-width="2.3"/>
<rect x="461.4" y="247.4" width="6.5" height="6.5" fill="none" stroke="#000" stroke-width="2.3"/>
<rect x="461.6" y="227.5" width="6.5" height="6.5" fill="none" stroke="#000" stroke-width="2.3"/>
<rect x="461.8" y="248" width="6.5" height="6.5" fill="none" stroke="#000" stroke-width="2.3"/>
<rect x="462.1" y="246.3" width="6.5" height="6.5" fill="none" stroke="#000" stroke-width="2.3"/>
<rect x="462.3" y="238.8" width="6.5" height="6.5" fill="none" stroke="#000" stroke-width="2.3"/>
<rect x="462.5" y="233.9" width="6.5" height="6.5" fill="none" stroke="#000" stroke-width="2.3"/>
<rect x="462.7" y="225.2" width="6.5" height="6.5" fill="none" stroke="#000" stroke-width="2.3"/>
<rect x="463" y="223.4" width="6.5" height="6.5" fill="none" stroke="#000" stroke-width="2.3"/>
<rect x="463.2" y="249.2" width="6.5" height="6.5" fill="none" stroke="#000" stroke-width="2.3"/>
<rect x="463.4" y="229.1" width="6.5" height="6.5" fill="none" stroke="#000" stroke-width="2.3"/>
<rect x="463.6" y="242.2" width="6.5" height="6.5" fill="none" stroke="#000" stroke-width="2.3"/>
<rect x="463.8" y="229.7" width="6.5" height="6.5" fill="none" stroke="#000" stroke-width="2.3"/>
<rect x="464" y="245.8" width="6.5" height="6.5" fill="none" stroke="#000" stroke-width="2.3"/>
<rect x="464.2" y="239.5" width="6.5" height="6.5" fill="none" stroke="#000" stroke-width="2.3"/>
<rect x="464.4" y="230.9" width="6.5" height="6.5" fill="none" stroke="#000" stroke-width="2.3"/>
<rect x="464.6" y="227.6" width="6.5" height="6.5" fill="none" stroke="#000" stroke-width="2.3"/>
<rect x="464.8" y="243.3" width="6.5" height="6.5" fill="none" stroke="#000" stroke-width="2.3"/>
<rect x="465.1" y="224.6" width="6.5" height="6.5" fill="none" stroke="#000" stroke-width="2.3"/>
<rect x="465.2" y="229.2" width="6.5" height="6.5" fill="none" stroke="#000" stroke-width="2.3"/>
<rect x="465.4" y="239" width="6.5" height="6.5" fill="none" stroke="#000" stroke-width="2.3"/>
<rect x="465.6" y="247.6" width="6.5" height="6.5" fill="none" stroke="#000" stroke-width="2.3"/>
<rect x="465.8" y="240.8" width="6.5" height="6.5" fill="none" stroke="#000" stroke-width="2.3"/>
<rect x="466" y="231" width="6.5" height="6.5" fill="none" stroke="#000" stroke-width="2.3"/>
<rect x="466.2" y="249.9" width="6.5" height="6.5" fill="none" stroke="#000" stroke-width="2.3"/>
<rect x="466.4" y="228.8" width="6.5" height="6.5" fill="none" stroke="#000" stroke-width="2.3"/>
<rect x="466.6" y="223.2" width="6.5" height="6.5" fill="none" stroke="#000" stroke-width="2.3"/>
<rect x="466.8" y="230.8" width="6.5" height="6.5" fill="none" stroke="#000" stroke-width="2.3"/>
<rect x="467" y="236.1" width="6.5" height="6.5" fill="none" stroke="#000" stroke-width="2.3"/>
<rect x="467.1" y="224.6" width="6.5" height="6.5" fill="none" stroke="#000" stroke-width="2.3"/>
<rect x="467.3" y="228.1" width="6.5" height="6.5" fill="none" stroke="#000" stroke-width="2.3"/>
<rect x="467.5" y="233.9" width="6.5" height="6.5" fill="none" stroke="#000" stroke-width="2.3"/>
<rect x="467.7" y="240" width="6.5" height="6.5" fill="none" stroke="#000" stroke-width="2.3"/>
<rect x="467.9" y="226.7" width="6.5" height="6.5" fill="none" stroke="#000" stroke-width="2.3"/>
<rect x="468" y="233.7" width="6.5" height="6.5" fill="none" stroke="#000" stroke-width="2.3"/>
<rect x="468.2" y="249.7" width="6.5" height="6.5" fill="none" stroke="#000" stroke-width="2.3"/>
<rect x="468.4" y="252.5" width="6.5" height="6.5" fill="none" stroke="#000" stroke-width="2.3"/>
<rect x="468.6" y="242.7" width="6.5" height="6.5" fill="none" stroke="#000" stroke-width="2.3"/>
<rect x="468.7" y="243.8" width="6.5" height="6.5" fill="none" stroke="#000" stroke-width="2.3"/>
<rect x="468.9" y="240.5" width="6.5" height="6.5" fill="none" stroke="#000" stroke-width="2.3"/>
<rect x="469.1" y="227" width="6.5" height="6.5" fill="none" stroke="#000" stroke-width="2.3"/>
<rect x="469.2" y="223.8" width="6.5" height="6.5" fill="none" stroke="#000" stroke-width="2.3"/>
<rect x="469.4" y="223.3" width="6.5" height="6.5" fill="none" stroke="#000" stroke-width="2.3"/>
<rect x="469.6" y="250.6" width="6.5" height="6.5" fill="none" stroke="#000" stroke-width="2.3"/>
<rect x="469.7" y="244.2" width="6.5" height="6.5" fill="none" stroke="#000" stroke-width="2.3"/>
<rect x="469.9" y="252.2" width="6.5" height="6.5" fill="none" stroke="#000" stroke-width="2.3"/>
<rect x="470" y="223.4" width="6.5" height="6.5" fill="none" stroke="#000" stroke-width="2.3"/>
<rect x="470.2" y="242.3" width="6.5" height="6.5" fill="none" stroke="#000" stroke-width="2.3"/>
<rect x="470.4" y="237.6" width="6.5" height="6.5" fill="none" stroke="#000" stroke-width="2.3"/>
<rect x="470.5" y="245.2" width="6.5" height="6.5" fill="none" stroke="#000" stroke-width="2.3"/>
<rect x="470.7" y="232.6" width="6.5" height="6.5" fill="none" stroke="#000" stroke-width="2.3"/>
<rect x="470.8" y="253.5" width="6.5" height="6.5" fill="none" stroke="#000" stroke-width="2.3"/>
<rect x="471" y="225.1" width="6.5" height="6.5" fill="none" stroke="#000" stroke-width="2.3"/>
<rect x="471.1" y="239.6" width="6.5" height="6.5" fill="none" stroke="#000" stroke-width="2.3"/>
<rect x="471.3" y="245.5" width="6.5" height="6.5" fill="none" stroke="#000" stroke-width="2.3"/>
<rect x="471.4" y="250.6" width="6.5" height="6.5" fill="none" stroke="#000" stroke-width="2.3"/>
<rect x="471.6" y="245.6" width="6.5" height="6.5" fill="none" stroke="#000" stroke-width="2.3"/>
<rect x="471.7" y="244.6" width="6.5" height="6.5" fill="none" stroke="#000" stroke-width="2.3"/>
<rect x="471.9" y="247.4" width="6.5" height="6.5" fill="none" stroke="#000" stroke-width="2.3"/>
<rect x="472" y="251.2" width="6.5" height="6.5" fill="none" stroke="#000" stroke-width="2.3"/>
<rect x="472.2" y="233.7" width="6.5" height="6.5" fill="none" stroke="#000" stroke-width="2.3"/>
<rect x="472.3" y="244.1" width="6.5" height="6.5" fill="none" stroke="#000" stroke-width="2.3"/>
<rect x="472.5" y="250.8" width="6.5" height="6.5" fill="none" stroke="#000" stroke-width="2.3"/>
<rect x="472.6" y="249.9" width="6.5" height="6.5" fill="none" stroke="#000" stroke-width="2.3"/>
<rect x="472.7" y="235.8" width="6.5" height="6.5" fill="none" stroke="#000" stroke-width="2.3"/>
<rect x="472.9" y="247.4" width="6.5" height="6.5" fill="none" stroke="#000" stroke-width="2.3"/>
<rect x="473" y="249.7" width="6.5" height="6.5" fill="none" stroke="#000" stroke-width="2.3"/>
<rect x="473.2" y="240.7" width="6.5" height="6.5" fill="none" stroke="#000" stroke-width="2.3"/>
<rect x="473.3" y="242.3" width="6.5" height="6.5" fill="none" stroke="#000" stroke-width="2.3"/>
<rect x="473.4" y="234.7" width="6.5" height="6.5" fill="none" stroke="#000" stroke-width="2.3"/>
<rect x="473.6" y="241" width="6.5" height="6.5" fill="none" stroke="#000" stroke-width="2.3"/>
<rect x="473.7" y="241.9" width="6.5" height="6.5" fill="none" stroke="#000" stroke-width="2.3"/>
<rect x="473.8" y="225.3" width="6.5" height="6.5" fill="none" stroke="#000" stroke-width="2.3"/>
<rect x="474" y="242.9" width="6.5" height="6.5" fill="none" stroke="#000" stroke-width="2.3"/>
<rect x="474.1" y="254" width="6.5" height="6.5" fill="none" stroke="#000" stroke-width="2.3"/>
<rect x="474.2" y="250.5" width="6.5" height="6.5" fill="none" stroke="#000" stroke-width="2.3"/>
<rect x="474.4" y="245.7" width="6.5" height="6.5" fill="none" stroke="#000" stroke-width="2.3"/>
<rect x="474.5" y="235" width="6.5" height="6.5" fill="none" stroke="#000" stroke-width="2.3"/>
<rect x="474.6" y="246" width="6.5" height="6.5" fill="none" stroke="#000" stroke-width="2.3"/>
<rect x="474.8" y="241.1" width="6.5" height="6.5" fill="none" stroke="#000" stroke-width="2.3"/>
<rect x="474.9" y="236.7" width="6.5" height="6.5" fill="none" stroke="#000" stroke-width="2.3"/>
<rect x="475" y="249.3" width="6.5" height="6.5" fill="none" stroke="#000" stroke-width="2.3"/>
<rect x="475.1" y="225.4" width="6.5" height="6.5" fill="none" stroke="#000" stroke-width="2.3"/>
<rect x="475.3" y="246.5" width="6.5" height="6.5" fill="none" stroke="#000" stroke-width="2.3"/>
<rect x="475.4" y="223.7" width="6.5" height="6.5" fill="none" stroke="#000" stroke-width="2.3"/>
<rect x="475.5" y="241.8" width="6.5" height="6.5" fill="none" stroke="#000" stroke-width="2.3"/>
<rect x="475.6" y="238" width="6.5" height="6.5" fill="none" stroke="#000" stroke-width="2.3"/>
<rect x="475.8" y="230.1" width="6.5" height="6.5" fill="none" stroke="#000" stroke-width="2.3"/>
<rect x="475.9" y="245" width="6.5" height="6.5" fill="none" stroke="#000" stroke-width="2.3"/>
<rect x="476" y="238.6" width="6.5" height="6.5" fill="none" stroke="#000" stroke-width="2.3"/>
<rect x="476.1" y="242.3" width="6.5" height="6.5" fill="none" stroke="#000" stroke-width="2.3"/>
<rect x="476.2" y="252.1" width="6.5" height="6.5" fill="none" stroke="#000" stroke-width="2.3"/>
<rect x="476.4" y="230.9" width="6.5" height="6.5" fill="none" stroke="#000" stroke-width="2.3"/>
<rect x="476.5" y="223.1" width="6.5" height="6.5" fill="none" stroke="#000" stroke-width="2.3"/>
<rect x="476.6" y="232.4" width="6.5" height="6.5" fill="none" stroke="#000" stroke-width="2.3"/>
<rect x="476.7" y="244.4" width="6.5" height="6.5" fill="none" stroke="#000" stroke-width="2.3"/>
<rect x="462.9" y="255.2" width="6.5" height="6.5" fill="none" stroke="#000" stroke-width="2.3"/>
<rect x="469.1" y="255.2" width="6.5" height="6.5" fill="none" stroke="#000" stroke-width="2.3"/>
<rect x="475.2" y="248.8" width="6.5" height="6.5" fill="none" stroke="#000" stroke-width="2.3"/>
<rect x="479.8" y="254.8" width="6.5" height="6.5" fill="none" stroke="#000" stroke-width="2.3"/>
<rect x="476.2" y="262.8" width="6.5" height="6.5" fill="none" stroke="#000" stroke-width="2.3"/>
<rect x="480.8" y="270.8" width="6.5" height="6.5" fill="none" stroke="#000" stroke-width="2.3"/>
<rect x="476.8" y="279.8" width="6.5" height="6.5" fill="none" stroke="#000" stroke-width="2.3"/>
<rect x="481.2" y="287.8" width="6.5" height="6.5" fill="none" stroke="#000" stroke-width="2.3"/>
<rect x="476.2" y="295.8" width="6.5" height="6.5" fill="none" stroke="#000" stroke-width="2.3"/>
<rect x="480.8" y="302.8" width="6.5" height="6.5" fill="none" stroke="#000" stroke-width="2.3"/>
<rect x="476.8" y="309.8" width="6.5" height="6.5" fill="none" stroke="#000" stroke-width="2.3"/>
<rect x="480.2" y="313.8" width="6.5" height="6.5" fill="none" stroke="#000" stroke-width="2.3"/>
<rect x="407.6" y="241.4" width="6.5" height="6.5" fill="#fff" stroke="#000" stroke-width="2.3"/>
<rect x="421.6" y="239.4" width="6.5" height="6.5" fill="#fff" stroke="#000" stroke-width="2.3"/>
<rect x="427.4" y="219.7" width="6.5" height="6.5" fill="#fff" stroke="#000" stroke-width="2.3"/>
<rect x="441.4" y="215.7" width="6.5" height="6.5" fill="#fff" stroke="#000" stroke-width="2.3"/>
<rect x="475.9" y="222.6" width="6.5" height="6.5" fill="#fff" stroke="#000" stroke-width="2.3"/>
<rect x="476.9" y="231.6" width="6.5" height="6.5" fill="#fff" stroke="#000" stroke-width="2.3"/>
<rect x="477.9" y="237.4" width="6.5" height="6.5" fill="#fff" stroke="#000" stroke-width="2.3"/>
<rect x="462.9" y="255.2" width="6.5" height="6.5" fill="#fff" stroke="#000" stroke-width="2.3"/>
<rect x="469.1" y="255.2" width="6.5" height="6.5" fill="#fff" stroke="#000" stroke-width="2.3"/>
<polyline fill="none" stroke="#f00" stroke-width="1.8" stroke-linejoin="round" points="341.5,323.6 356.7,328.6 365.5,331.8 371.8,333.6 376.7,337.3 380.7,334.8 384.1,332.3 387,341 389.6,338.5 391.9,336 394,333.7 395.9,334.5 397.6,344.4 399.3,342.5 400.8,340.5 402.2,346.4 403.5,339.8 404.8,344.4 405.9,338.7 407.1,342 408.1,347.2 409.2,348.9 410.1,348.8 411.1,342.4 412,345.3 412.8,341.9 413.6,339.6 414.4,344.8 415.2,349.7 415.9,349.9 416.7,347.9 417.4,351.3 418,341.4 418.7,339.8 419.3,343.8 419.9,341.1 420.5,340.1 421.1,343.1 421.7,346.3 422.2,344.2 422.8,341.3 423.3,349.5 423.8,351.7 424.3,343.3 424.8,337.2 425.3,336.4 425.8,349.9 426.2,336.4 426.7,347.2 427.1,344.9 427.6,340.6 428,348.5 428.4,335.6 428.8,337.5 429.2,342.8 429.6,335.5 430,349.1 430.4,339 430.8,337.3 431.1,335.6 431.5,345.6 431.8,342.4 432.2,345.5 432.5,346 432.9,348.6 433.2,351.3 433.5,346.4 433.9,337.8 434.2,342.6 434.5,337.3 434.8,334.2 435.1,342.5 435.4,347 435.7,337.4 436,339.2 436.3,340.5 436.6,346.9 436.9,343.8 437.1,345.6 437.4,348.2 437.7,341.8 438,349 438.2,351.1 438.5,336.4 438.7,351.7 439,348 439.3,337.4 439.5,343.3 439.7,346.4 440,351.6 440.2,342.1 440.5,345.6 440.7,351.3 440.9,349.8 441.2,352.5 441.4,343.9 441.6,347.4 441.9,339.4 442.1,348.8 442.3,350.6 442.7,347.5 443.4,349 444,340.1 444.6,352.6 445.2,354.2 445.7,354.3 446.3,346.5 446.8,351.2 447.4,343.2 447.9,354 448.4,353.4 448.9,345.4 449.3,341.6 449.8,347.9 450.3,350.1 450.7,353.8 451.2,350 451.6,343.9 452,355.3 452.5,345.1 452.9,355.5 453.3,346.9 453.7,349.3 454,355.8 454.4,346.9 454.8,347.1 455.2,352.4 455.5,355.5 455.9,357.2 456.2,355.2 456.6,359 456.9,352.7 457.3,359.3 457.6,347.3 457.9,349.3 458.2,353.7 458.5,350.5 458.9,356.8 459.2,355.6 459.5,354.1 459.8,358.7 460,354.8 460.3,351.3 460.6,352.2 460.9,358.8 461.2,359.6 461.5,349.5 461.7,358.8 462,360.5 462.3,353.9 462.5,354.6 462.8,348.9 463,353.9 463.3,353.4 463.5,354.9 463.8,345.9 464,360.5 464.3,353.4 464.5,351.5 464.8,357.8 465,354 465.2,352.8 465.5,356 465.7,345.8 465.9,353.5 466.1,351.4 466.3,360.3 466.6,359.7 466.8,348.8 467,352.2 467.2,346.3 467.4,351.4 467.6,357.9 467.8,359.3 468,352 468.2,349.2 468.4,347 468.6,354.3 468.8,359.7 469,345.7 469.2,357.1 469.4,343.6 469.6,346.6 469.8,347.2 470,355.4 470.2,348.6 470.3,349 470.5,353.8 470.7,343.9 470.9,355.8 471.1,343.7 471.2,351.2 471.4,345.8 471.6,344.5 471.8,351.2 471.9,349.1 472.1,347.7 472.3,348.3 472.4,350.7 472.6,342.4 472.8,343.2 472.9,352.6 473.1,352.7 473.2,350.1 473.4,357.5 473.6,351.8 473.7,357.6 473.9,342.4 474,354.7 474.2,356.3 474.3,358.6 474.5,343.8 474.6,343.6 474.8,359 474.9,340.8 475.1,361 475.2,358.1 475.4,338.1 475.5,340.8 475.7,353.8 475.8,341.1 475.9,336.5 476.1,356.6 476.2,345.2 476.4,355.4 476.5,336.8 476.6,344.4 476.8,352.4 476.9,333.3 477,338.4 477.2,352.2 477.3,358.8 477.4,360.5 477.6,335.4 477.7,346.8 477.8,354.3 478,346.6 478.1,352 478.2,337 478.3,333.2 478.5,334.2 478.6,332 478.7,347.7 478.8,346.5 479,348.2 479.1,334.8 479.2,335.9 479.3,336.4 479.5,356.6 479.6,361.5 479.7,359.4 479.8,332.5 479.9,331.3 480,360.3 480.2,344.2 480.3,354.1 480.4,339.6 480.5,344.1 480.6,345.7 480.7,342.8 480.9,348.5 481,328.5 481.1,351.8 481.2,356.7 481.3,334.2 481.4,343.4 484,359"/>
<polyline fill="none" stroke="#f00" stroke-width="1.8" stroke-linejoin="round" points="484,359 484,352.8 484,344.8 484,336.8 484,329.9 484,320.7 487.3,293 488.3,292.9 487.9,292.8 486.4,292.6 487.6,292.4 486.8,292.4 488.3,292.1 486.5,291.7 487.4,291.6 487.5,291.4 489,291.2 486.1,290.4 489.2,290.3 485.8,289.2 486.3,288.7 486.7,288.6 487.1,287.9 489,287.8 484.4,286 490,285.8 484.1,285.2 490.1,285 491.2,284.3 483.5,283.7 489.7,283.6 491.4,283.2 484.9,282.9 489.2,282.5 491.4,281.6 489.2,281 492,279.6 487.3,279.5 492.6,279.1 492.4,278.9 487,278.8 488.7,278.5 487.3,277.8 483.8,277.8 483.8,277.8 485.2,276.8 492.6,276.7 485.8,276.5 489.2,276.3 491.6,276.2 483.4,275.7 491,275.7 490,275.6 488.5,275.4 493.6,274.9 483,273.6 484.2,273.5 489.4,271.8 486.5,271.1 491.6,270.8 485.9,270.7 484.2,270.5 483.9,270.4 484.8,270 490.5,269.6 485.4,269 487.9,268.1 491,267.8 489.8,267.1 488.4,266.9 485.1,266.8 491.5,264.5 492.5,263.7 488.6,263.6 483.1,263.4 490.3,263.1 490.7,263.1 490.8,262.7 482.2,262.7 490,262.4 490.9,261.9 488.4,261.8 490.3,261.1 486.6,261.1 492.7,259.9 492.3,259.8 489.8,259.8 483.1,259.2 484.4,257.9 491.7,257.9 490.5,257.6 491.3,257.5 490.5,257 484.7,256.2 489.1,256.1 489.1,255.8 488.1,255.5 490.4,255.5 490.8,254.8 484.8,254.7 490.2,254.7 487.4,253.7 485.3,252.8 488.4,251.2 486.7,250.1 486,249.8 488.7,248.4 487.4,248 487.8,247.7 487.8,246.9 486.5,246.2 487.4,246.2 488.4,246.1 488.2,245.8 487.6,245.6 488.2,245 491.7,275.8 491.7,267.1 490.7,259.7 488.7,248.6 488.7,242.4"/>
<circle cx="341.5" cy="323.6" r="3.7" fill="#fff" stroke="#f00" stroke-width="2.6"/>
<circle cx="356.7" cy="328.6" r="3.7" fill="#fff" stroke="#f00" stroke-width="2.6"/>
<circle cx="365.5" cy="331.8" r="3.7" fill="#fff" stroke="#f00" stroke-width="2.6"/>
<circle cx="371.8" cy="333.6" r="3.7" fill="#fff" stroke="#f00" stroke-width="2.6"/>
<circle cx="376.7" cy="337.3" r="3.7" fill="#fff" stroke="#f00" stroke-width="2.6"/>
<circle cx="380.7" cy="334.8" r="3.7" fill="#fff" stroke="#f00" stroke-width="2.6"/>
<circle cx="384.1" cy="332.3" r="3.7" fill="#fff" stroke="#f00" stroke-width="2.6"/>
<circle cx="387" cy="341" r="3.7" fill="#fff" stroke="#f00" stroke-width="2.6"/>
<circle cx="389.6" cy="338.5" r="3.7" fill="#fff" stroke="#f00" stroke-width="2.6"/>
<circle cx="391.9" cy="336" r="3.7" fill="#fff" stroke="#f00" stroke-width="2.6"/>
<circle cx="394" cy="333.7" r="3.7" fill="#fff" stroke="#f00" stroke-width="2.6"/>
<circle cx="395.9" cy="334.5" r="3.7" fill="#fff" stroke="#f00" stroke-width="2.6"/>
<circle cx="397.6" cy="344.4" r="3.7" fill="#fff" stroke="#f00" stroke-width="2.6"/>
<circle cx="399.3" cy="342.5" r="3.7" fill="#fff" stroke="#f00" stroke-width="2.6"/>
<circle cx="400.8" cy="340.5" r="3.7" fill="none" stroke="#f00" stroke-width="2.6"/>
<circle cx="402.2" cy="346.4" r="3.7" fill="none" stroke="#f00" stroke-width="2.6"/>
<circle cx="403.5" cy="339.8" r="3.7" fill="none" stroke="#f00" stroke-width="2.6"/>
<circle cx="404.8" cy="344.4" r="3.7" fill="none" stroke="#f00" stroke-width="2.6"/>
<circle cx="405.9" cy="338.7" r="3.7" fill="none" stroke="#f00" stroke-width="2.6"/>
<circle cx="407.1" cy="342" r="3.7" fill="none" stroke="#f00" stroke-width="2.6"/>
<circle cx="408.1" cy="347.2" r="3.7" fill="none" stroke="#f00" stroke-width="2.6"/>
<circle cx="409.2" cy="348.9" r="3.7" fill="none" stroke="#f00" stroke-width="2.6"/>
<circle cx="410.1" cy="348.8" r="3.7" fill="none" stroke="#f00" stroke-width="2.6"/>
<circle cx="411.1" cy="342.4" r="3.7" fill="none" stroke="#f00" stroke-width="2.6"/>
<circle cx="412" cy="345.3" r="3.7" fill="none" stroke="#f00" stroke-width="2.6"/>
<circle cx="412.8" cy="341.9" r="3.7" fill="none" stroke="#f00" stroke-width="2.6"/>
<circle cx="413.6" cy="339.6" r="3.7" fill="none" stroke="#f00" stroke-width="2.6"/>
<circle cx="414.4" cy="344.8" r="3.7" fill="none" stroke="#f00" stroke-width="2.6"/>
<circle cx="415.2" cy="349.7" r="3.7" fill="none" stroke="#f00" stroke-width="2.6"/>
<circle cx="415.9" cy="349.9" r="3.7" fill="none" stroke="#f00" stroke-width="2.6"/>
<circle cx="416.7" cy="347.9" r="3.7" fill="none" stroke="#f00" stroke-width="2.6"/>
<circle cx="417.4" cy="351.3" r="3.7" fill="none" stroke="#f00" stroke-width="2.6"/>
<circle cx="418" cy="341.4" r="3.7" fill="none" stroke="#f00" stroke-width="2.6"/>
<circle cx="418.7" cy="339.8" r="3.7" fill="none" stroke="#f00" stroke-width="2.6"/>
<circle cx="419.3" cy="343.8" r="3.7" fill="none" stroke="#f00" stroke-width="2.6"/>
<circle cx="419.9" cy="341.1" r="3.7" fill="none" stroke="#f00" stroke-width="2.6"/>
<circle cx="420.5" cy="340.1" r="3.7" fill="none" stroke="#f00" stroke-width="2.6"/>
<circle cx="421.1" cy="343.1" r="3.7" fill="none" stroke="#f00" stroke-width="2.6"/>
<circle cx="421.7" cy="346.3" r="3.7" fill="none" stroke="#f00" stroke-width="2.6"/>
<circle cx="422.2" cy="344.2" r="3.7" fill="none" stroke="#f00" stroke-width="2.6"/>
<circle cx="422.8" cy="341.3" r="3.7" fill="none" stroke="#f00" stroke-width="2.6"/>
<circle cx="423.3" cy="349.5" r="3.7" fill="none" stroke="#f00" stroke-width="2.6"/>
<circle cx="423.8" cy="351.7" r="3.7" fill="none" stroke="#f00" stroke-width="2.6"/>
<circle cx="424.3" cy="343.3" r="3.7" fill="none" stroke="#f00" stroke-width="2.6"/>
<circle cx="424.8" cy="337.2" r="3.7" fill="none" stroke="#f00" stroke-width="2.6"/>
<circle cx="425.3" cy="336.4" r="3.7" fill="none" stroke="#f00" stroke-width="2.6"/>
<circle cx="425.8" cy="349.9" r="3.7" fill="none" stroke="#f00" stroke-width="2.6"/>
<circle cx="426.2" cy="336.4" r="3.7" fill="none" stroke="#f00" stroke-width="2.6"/>
<circle cx="426.7" cy="347.2" r="3.7" fill="none" stroke="#f00" stroke-width="2.6"/>
<circle cx="427.1" cy="344.9" r="3.7" fill="none" stroke="#f00" stroke-width="2.6"/>
<circle cx="427.6" cy="340.6" r="3.7" fill="none" stroke="#f00" stroke-width="2.6"/>
<circle cx="428" cy="348.5" r="3.7" fill="none" stroke="#f00" stroke-width="2.6"/>
<circle cx="428.4" cy="335.6" r="3.7" fill="none" stroke="#f00" stroke-width="2.6"/>
<circle cx="428.8" cy="337.5" r="3.7" fill="none" stroke="#f00" stroke-width="2.6"/>
<circle cx="429.2" cy="342.8" r="3.7" fill="none" stroke="#f00" stroke-width="2.6"/>
<circle cx="429.6" cy="335.5" r="3.7" fill="none" stroke="#f00" stroke-width="2.6"/>
<circle cx="430" cy="349.1" r="3.7" fill="none" stroke="#f00" stroke-width="2.6"/>
<circle cx="430.4" cy="339" r="3.7" fill="none" stroke="#f00" stroke-width="2.6"/>
<circle cx="430.8" cy="337.3" r="3.7" fill="none" stroke="#f00" stroke-width="2.6"/>
<circle cx="431.1" cy="335.6" r="3.7" fill="none" stroke="#f00" stroke-width="2.6"/>
<circle cx="431.5" cy="345.6" r="3.7" fill="none" stroke="#f00" stroke-width="2.6"/>
<circle cx="431.8" cy="342.4" r="3.7" fill="none" stroke="#f00" stroke-width="2.6"/>
<circle cx="432.2" cy="345.5" r="3.7" fill="none" stroke="#f00" stroke-width="2.6"/>
<circle cx="432.5" cy="346" r="3.7" fill="none" stroke="#f00" stroke-width="2.6"/>
<circle cx="432.9" cy="348.6" r="3.7" fill="none" stroke="#f00" stroke-width="2.6"/>
<circle cx="433.2" cy="351.3" r="3.7" fill="none" stroke="#f00" stroke-width="2.6"/>
<circle cx="433.5" cy="346.4" r="3.7" fill="none" stroke="#f00" stroke-width="2.6"/>
<circle cx="433.9" cy="337.8" r="3.7" fill="none" stroke="#f00" stroke-width="2.6"/>
<circle cx="434.2" cy="342.6" r="3.7" fill="none" stroke="#f00" stroke-width="2.6"/>
<circle cx="434.5" cy="337.3" r="3.7" fill="none" stroke="#f00" stroke-width="2.6"/>
<circle cx="434.8" cy="334.2" r="3.7" fill="none" stroke="#f00" stroke-width="2.6"/>
<circle cx="435.1" cy="342.5" r="3.7" fill="none" stroke="#f00" stroke-width="2.6"/>
<circle cx="435.4" cy="347" r="3.7" fill="none" stroke="#f00" stroke-width="2.6"/>
<circle cx="435.7" cy="337.4" r="3.7" fill="none" stroke="#f00" stroke-width="2.6"/>
<circle cx="436" cy="339.2" r="3.7" fill="none" stroke="#f00" stroke-width="2.6"/>
<circle cx="436.3" cy="340.5" r="3.7" fill="none" stroke="#f00" stroke-width="2.6"/>
<circle cx="436.6" cy="346.9" r="3.7" fill="none" stroke="#f00" stroke-width="2.6"/>
<circle cx="436.9" cy="343.8" r="3.7" fill="none" stroke="#f00" stroke-width="2.6"/>
<circle cx="437.1" cy="345.6" r="3.7" fill="none" stroke="#f00" stroke-width="2.6"/>
<circle cx="437.4" cy="348.2" r="3.7" fill="none" stroke="#f00" stroke-width="2.6"/>
<circle cx="437.7" cy="341.8" r="3.7" fill="none" stroke="#f00" stroke-width="2.6"/>
<circle cx="438" cy="349" r="3.7" fill="none" stroke="#f00" stroke-width="2.6"/>
<circle cx="438.2" cy="351.1" r="3.7" fill="none" stroke="#f00" stroke-width="2.6"/>
<circle cx="438.5" cy="336.4" r="3.7" fill="none" stroke="#f00" stroke-width="2.6"/>
<circle cx="438.7" cy="351.7" r="3.7" fill="none" stroke="#f00" stroke-width="2.6"/>
<circle cx="439" cy="348" r="3.7" fill="none" stroke="#f00" stroke-width="2.6"/>
<circle cx="439.3" cy="337.4" r="3.7" fill="none" stroke="#f00" stroke-width="2.6"/>
<circle cx="439.5" cy="343.3" r="3.7" fill="none" stroke="#f00" stroke-width="2.6"/>
<circle cx="439.7" cy="346.4" r="3.7" fill="none" stroke="#f00" stroke-width="2.6"/>
<circle cx="440" cy="351.6" r="3.7" fill="none" stroke="#f00" stroke-width="2.6"/>
<circle cx="440.2" cy="342.1" r="3.7" fill="none" stroke="#f00" stroke-width="2.6"/>
<circle cx="440.5" cy="345.6" r="3.7" fill="none" stroke="#f00" stroke-width="2.6"/>
<circle cx="440.7" cy="351.3" r="3.7" fill="none" stroke="#f00" stroke-width="2.6"/>
<circle cx="440.9" cy="349.8" r="3.7" fill="none" stroke="#f00" stroke-width="2.6"/>
<circle cx="441.2" cy="352.5" r="3.7" fill="none" stroke="#f00" stroke-width="2.6"/>
<circle cx="441.4" cy="343.9" r="3.7" fill="none" stroke="#f00" stroke-width="2.6"/>
<circle cx="441.6" cy="347.4" r="3.7" fill="none" stroke="#f00" stroke-width="2.6"/>
<circle cx="441.9" cy="339.4" r="3.7" fill="none" stroke="#f00" stroke-width="2.6"/>
<circle cx="442.1" cy="348.8" r="3.7" fill="none" stroke="#f00" stroke-width="2.6"/>
<circle cx="442.3" cy="350.6" r="3.7" fill="none" stroke="#f00" stroke-width="2.6"/>
<circle cx="442.7" cy="347.5" r="3.7" fill="none" stroke="#f00" stroke-width="2.6"/>
<circle cx="443.4" cy="349" r="3.7" fill="none" stroke="#f00" stroke-width="2.6"/>
<circle cx="444" cy="340.1" r="3.7" fill="none" stroke="#f00" stroke-width="2.6"/>
<circle cx="444.6" cy="352.6" r="3.7" fill="none" stroke="#f00" stroke-width="2.6"/>
<circle cx="445.2" cy="354.2" r="3.7" fill="none" stroke="#f00" stroke-width="2.6"/>
<circle cx="445.7" cy="354.3" r="3.7" fill="none" stroke="#f00" stroke-width="2.6"/>
<circle cx="446.3" cy="346.5" r="3.7" fill="none" stroke="#f00" stroke-width="2.6"/>
<circle cx="446.8" cy="351.2" r="3.7" fill="none" stroke="#f00" stroke-width="2.6"/>
<circle cx="447.4" cy="343.2" r="3.7" fill="none" stroke="#f00" stroke-width="2.6"/>
<circle cx="447.9" cy="354" r="3.7" fill="none" stroke="#f00" stroke-width="2.6"/>
<circle cx="448.4" cy="353.4" r="3.7" fill="none" stroke="#f00" stroke-width="2.6"/>
<circle cx="448.9" cy="345.4" r="3.7" fill="none" stroke="#f00" stroke-width="2.6"/>
<circle cx="449.3" cy="341.6" r="3.7" fill="none" stroke="#f00" stroke-width="2.6"/>
<circle cx="449.8" cy="347.9" r="3.7" fill="none" stroke="#f00" stroke-width="2.6"/>
<circle cx="450.3" cy="350.1" r="3.7" fill="none" stroke="#f00" stroke-width="2.6"/>
<circle cx="450.7" cy="353.8" r="3.7" fill="none" stroke="#f00" stroke-width="2.6"/>
<circle cx="451.2" cy="350" r="3.7" fill="none" stroke="#f00" stroke-width="2.6"/>
<circle cx="451.6" cy="343.9" r="3.7" fill="none" stroke="#f00" stroke-width="2.6"/>
<circle cx="452" cy="355.3" r="3.7" fill="none" stroke="#f00" stroke-width="2.6"/>
<circle cx="452.5" cy="345.1" r="3.7" fill="none" stroke="#f00" stroke-width="2.6"/>
<circle cx="452.9" cy="355.5" r="3.7" fill="none" stroke="#f00" stroke-width="2.6"/>
<circle cx="453.3" cy="346.9" r="3.7" fill="none" stroke="#f00" stroke-width="2.6"/>
<circle cx="453.7" cy="349.3" r="3.7" fill="none" stroke="#f00" stroke-width="2.6"/>
<circle cx="454" cy="355.8" r="3.7" fill="none" stroke="#f00" stroke-width="2.6"/>
<circle cx="454.4" cy="346.9" r="3.7" fill="none" stroke="#f00" stroke-width="2.6"/>
<circle cx="454.8" cy="347.1" r="3.7" fill="none" stroke="#f00" stroke-width="2.6"/>
<circle cx="455.2" cy="352.4" r="3.7" fill="none" stroke="#f00" stroke-width="2.6"/>
<circle cx="455.5" cy="355.5" r="3.7" fill="none" stroke="#f00" stroke-width="2.6"/>
<circle cx="455.9" cy="357.2" r="3.7" fill="none" stroke="#f00" stroke-width="2.6"/>
<circle cx="456.2" cy="355.2" r="3.7" fill="none" stroke="#f00" stroke-width="2.6"/>
<circle cx="456.6" cy="359" r="3.7" fill="none" stroke="#f00" stroke-width="2.6"/>
<circle cx="456.9" cy="352.7" r="3.7" fill="none" stroke="#f00" stroke-width="2.6"/>
<circle cx="457.3" cy="359.3" r="3.7" fill="none" stroke="#f00" stroke-width="2.6"/>
<circle cx="457.6" cy="347.3" r="3.7" fill="none" stroke="#f00" stroke-width="2.6"/>
<circle cx="457.9" cy="349.3" r="3.7" fill="none" stroke="#f00" stroke-width="2.6"/>
<circle cx="458.2" cy="353.7" r="3.7" fill="none" stroke="#f00" stroke-width="2.6"/>
<circle cx="458.5" cy="350.5" r="3.7" fill="none" stroke="#f00" stroke-width="2.6"/>
<circle cx="458.9" cy="356.8" r="3.7" fill="none" stroke="#f00" stroke-width="2.6"/>
<circle cx="459.2" cy="355.6" r="3.7" fill="none" stroke="#f00" stroke-width="2.6"/>
<circle cx="459.5" cy="354.1" r="3.7" fill="none" stroke="#f00" stroke-width="2.6"/>
<circle cx="459.8" cy="358.7" r="3.7" fill="none" stroke="#f00" stroke-width="2.6"/>
<circle cx="460" cy="354.8" r="3.7" fill="none" stroke="#f00" stroke-width="2.6"/>
<circle cx="460.3" cy="351.3" r="3.7" fill="none" stroke="#f00" stroke-width="2.6"/>
<circle cx="460.6" cy="352.2" r="3.7" fill="none" stroke="#f00" stroke-width="2.6"/>
<circle cx="460.9" cy="358.8" r="3.7" fill="none" stroke="#f00" stroke-width="2.6"/>
<circle cx="461.2" cy="359.6" r="3.7" fill="none" stroke="#f00" stroke-width="2.6"/>
<circle cx="461.5" cy="349.5" r="3.7" fill="none" stroke="#f00" stroke-width="2.6"/>
<circle cx="461.7" cy="358.8" r="3.7" fill="none" stroke="#f00" stroke-width="2.6"/>
<circle cx="462" cy="360.5" r="3.7" fill="none" stroke="#f00" stroke-width="2.6"/>
<circle cx="462.3" cy="353.9" r="3.7" fill="none" stroke="#f00" stroke-width="2.6"/>
<circle cx="462.5" cy="354.6" r="3.7" fill="none" stroke="#f00" stroke-width="2.6"/>
<circle cx="462.8" cy="348.9" r="3.7" fill="none" stroke="#f00" stroke-width="2.6"/>
<circle cx="463" cy="353.9" r="3.7" fill="none" stroke="#f00" stroke-width="2.6"/>
<circle cx="463.3" cy="353.4" r="3.7" fill="none" stroke="#f00" stroke-width="2.6"/>
<circle cx="463.5" cy="354.9" r="3.7" fill="none" stroke="#f00" stroke-width="2.6"/>
<circle cx="463.8" cy="345.9" r="3.7" fill="none" stroke="#f00" stroke-width="2.6"/>
<circle cx="464" cy="360.5" r="3.7" fill="none" stroke="#f00" stroke-width="2.6"/>
<circle cx="464.3" cy="353.4" r="3.7" fill="none" stroke="#f00" stroke-width="2.6"/>
<circle cx="464.5" cy="351.5" r="3.7" fill="none" stroke="#f00" stroke-width="2.6"/>
<circle cx="464.8" cy="357.8" r="3.7" fill="none" stroke="#f00" stroke-width="2.6"/>
<circle cx="465" cy="354" r="3.7" fill="none" stroke="#f00" stroke-width="2.6"/>
<circle cx="465.2" cy="352.8" r="3.7" fill="none" stroke="#f00" stroke-width="2.6"/>
<circle cx="465.5" cy="356" r="3.7" fill="none" stroke="#f00" stroke-width="2.6"/>
<circle cx="465.7" cy="345.8" r="3.7" fill="none" stroke="#f00" stroke-width="2.6"/>
<circle cx="465.9" cy="353.5" r="3.7" fill="none" stroke="#f00" stroke-width="2.6"/>
<circle cx="466.1" cy="351.4" r="3.7" fill="none" stroke="#f00" stroke-width="2.6"/>
<circle cx="466.3" cy="360.3" r="3.7" fill="none" stroke="#f00" stroke-width="2.6"/>
<circle cx="466.6" cy="359.7" r="3.7" fill="none" stroke="#f00" stroke-width="2.6"/>
<circle cx="466.8" cy="348.8" r="3.7" fill="none" stroke="#f00" stroke-width="2.6"/>
<circle cx="467" cy="352.2" r="3.7" fill="none" stroke="#f00" stroke-width="2.6"/>
<circle cx="467.2" cy="346.3" r="3.7" fill="none" stroke="#f00" stroke-width="2.6"/>
<circle cx="467.4" cy="351.4" r="3.7" fill="none" stroke="#f00" stroke-width="2.6"/>
<circle cx="467.6" cy="357.9" r="3.7" fill="none" stroke="#f00" stroke-width="2.6"/>
<circle cx="467.8" cy="359.3" r="3.7" fill="none" stroke="#f00" stroke-width="2.6"/>
<circle cx="468" cy="352" r="3.7" fill="none" stroke="#f00" stroke-width="2.6"/>
<circle cx="468.2" cy="349.2" r="3.7" fill="none" stroke="#f00" stroke-width="2.6"/>
<circle cx="468.4" cy="347" r="3.7" fill="none" stroke="#f00" stroke-width="2.6"/>
<circle cx="468.6" cy="354.3" r="3.7" fill="none" stroke="#f00" stroke-width="2.6"/>
<circle cx="468.8" cy="359.7" r="3.7" fill="none" stroke="#f00" stroke-width="2.6"/>
<circle cx="469" cy="345.7" r="3.7" fill="none" stroke="#f00" stroke-width="2.6"/>
<circle cx="469.2" cy="357.1" r="3.7" fill="none" stroke="#f00" stroke-width="2.6"/>
<circle cx="469.4" cy="343.6" r="3.7" fill="none" stroke="#f00" stroke-width="2.6"/>
<circle cx="469.6" cy="346.6" r="3.7" fill="none" stroke="#f00" stroke-width="2.6"/>
<circle cx="469.8" cy="347.2" r="3.7" fill="none" stroke="#f00" stroke-width="2.6"/>
<circle cx="470" cy="355.4" r="3.7" fill="none" stroke="#f00" stroke-width="2.6"/>
<circle cx="470.2" cy="348.6" r="3.7" fill="none" stroke="#f00" stroke-width="2.6"/>
<circle cx="470.3" cy="349" r="3.7" fill="none" stroke="#f00" stroke-width="2.6"/>
<circle cx="470.5" cy="353.8" r="3.7" fill="none" stroke="#f00" stroke-width="2.6"/>
<circle cx="470.7" cy="343.9" r="3.7" fill="none" stroke="#f00" stroke-width="2.6"/>
<circle cx="470.9" cy="355.8" r="3.7" fill="none" stroke="#f00" stroke-width="2.6"/>
<circle cx="471.1" cy="343.7" r="3.7" fill="none" stroke="#f00" stroke-width="2.6"/>
<circle cx="471.2" cy="351.2" r="3.7" fill="none" stroke="#f00" stroke-width="2.6"/>
<circle cx="471.4" cy="345.8" r="3.7" fill="none" stroke="#f00" stroke-width="2.6"/>
<circle cx="471.6" cy="344.5" r="3.7" fill="none" stroke="#f00" stroke-width="2.6"/>
<circle cx="471.8" cy="351.2" r="3.7" fill="none" stroke="#f00" stroke-width="2.6"/>
<circle cx="471.9" cy="349.1" r="3.7" fill="none" stroke="#f00" stroke-width="2.6"/>
<circle cx="472.1" cy="347.7" r="3.7" fill="none" stroke="#f00" stroke-width="2.6"/>
<circle cx="472.3" cy="348.3" r="3.7" fill="none" stroke="#f00" stroke-width="2.6"/>
<circle cx="472.4" cy="350.7" r="3.7" fill="none" stroke="#f00" stroke-width="2.6"/>
<circle cx="472.6" cy="342.4" r="3.7" fill="none" stroke="#f00" stroke-width="2.6"/>
<circle cx="472.8" cy="343.2" r="3.7" fill="none" stroke="#f00" stroke-width="2.6"/>
<circle cx="472.9" cy="352.6" r="3.7" fill="none" stroke="#f00" stroke-width="2.6"/>
<circle cx="473.1" cy="352.7" r="3.7" fill="none" stroke="#f00" stroke-width="2.6"/>
<circle cx="473.2" cy="350.1" r="3.7" fill="none" stroke="#f00" stroke-width="2.6"/>
<circle cx="473.4" cy="357.5" r="3.7" fill="none" stroke="#f00" stroke-width="2.6"/>
<circle cx="473.6" cy="351.8" r="3.7" fill="none" stroke="#f00" stroke-width="2.6"/>
<circle cx="473.7" cy="357.6" r="3.7" fill="none" stroke="#f00" stroke-width="2.6"/>
<circle cx="473.9" cy="342.4" r="3.7" fill="none" stroke="#f00" stroke-width="2.6"/>
<circle cx="474" cy="354.7" r="3.7" fill="none" stroke="#f00" stroke-width="2.6"/>
<circle cx="474.2" cy="356.3" r="3.7" fill="none" stroke="#f00" stroke-width="2.6"/>
<circle cx="474.3" cy="358.6" r="3.7" fill="none" stroke="#f00" stroke-width="2.6"/>
<circle cx="474.5" cy="343.8" r="3.7" fill="none" stroke="#f00" stroke-width="2.6"/>
<circle cx="474.6" cy="343.6" r="3.7" fill="none" stroke="#f00" stroke-width="2.6"/>
<circle cx="474.8" cy="359" r="3.7" fill="none" stroke="#f00" stroke-width="2.6"/>
<circle cx="474.9" cy="340.8" r="3.7" fill="none" stroke="#f00" stroke-width="2.6"/>
<circle cx="475.1" cy="361" r="3.7" fill="none" stroke="#f00" stroke-width="2.6"/>
<circle cx="475.2" cy="358.1" r="3.7" fill="none" stroke="#f00" stroke-width="2.6"/>
<circle cx="475.4" cy="338.1" r="3.7" fill="none" stroke="#f00" stroke-width="2.6"/>
<circle cx="475.5" cy="340.8" r="3.7" fill="none" stroke="#f00" stroke-width="2.6"/>
<circle cx="475.7" cy="353.8" r="3.7" fill="none" stroke="#f00" stroke-width="2.6"/>
<circle cx="475.8" cy="341.1" r="3.7" fill="none" stroke="#f00" stroke-width="2.6"/>
<circle cx="475.9" cy="336.5" r="3.7" fill="none" stroke="#f00" stroke-width="2.6"/>
<circle cx="476.1" cy="356.6" r="3.7" fill="none" stroke="#f00" stroke-width="2.6"/>
<circle cx="476.2" cy="345.2" r="3.7" fill="none" stroke="#f00" stroke-width="2.6"/>
<circle cx="476.4" cy="355.4" r="3.7" fill="none" stroke="#f00" stroke-width="2.6"/>
<circle cx="476.5" cy="336.8" r="3.7" fill="none" stroke="#f00" stroke-width="2.6"/>
<circle cx="476.6" cy="344.4" r="3.7" fill="none" stroke="#f00" stroke-width="2.6"/>
<circle cx="476.8" cy="352.4" r="3.7" fill="none" stroke="#f00" stroke-width="2.6"/>
<circle cx="476.9" cy="333.3" r="3.7" fill="none" stroke="#f00" stroke-width="2.6"/>
<circle cx="477" cy="338.4" r="3.7" fill="none" stroke="#f00" stroke-width="2.6"/>
<circle cx="477.2" cy="352.2" r="3.7" fill="none" stroke="#f00" stroke-width="2.6"/>
<circle cx="477.3" cy="358.8" r="3.7" fill="none" stroke="#f00" stroke-width="2.6"/>
<circle cx="477.4" cy="360.5" r="3.7" fill="none" stroke="#f00" stroke-width="2.6"/>
<circle cx="477.6" cy="335.4" r="3.7" fill="none" stroke="#f00" stroke-width="2.6"/>
<circle cx="477.7" cy="346.8" r="3.7" fill="none" stroke="#f00" stroke-width="2.6"/>
<circle cx="477.8" cy="354.3" r="3.7" fill="none" stroke="#f00" stroke-width="2.6"/>
<circle cx="478" cy="346.6" r="3.7" fill="none" stroke="#f00" stroke-width="2.6"/>
<circle cx="478.1" cy="352" r="3.7" fill="none" stroke="#f00" stroke-width="2.6"/>
<circle cx="478.2" cy="337" r="3.7" fill="none" stroke="#f00" stroke-width="2.6"/>
<circle cx="478.3" cy="333.2" r="3.7" fill="none" stroke="#f00" stroke-width="2.6"/>
<circle cx="478.5" cy="334.2" r="3.7" fill="none" stroke="#f00" stroke-width="2.6"/>
<circle cx="478.6" cy="332" r="3.7" fill="none" stroke="#f00" stroke-width="2.6"/>
<circle cx="478.7" cy="347.7" r="3.7" fill="none" stroke="#f00" stroke-width="2.6"/>
<circle cx="478.8" cy="346.5" r="3.7" fill="none" stroke="#f00" stroke-width="2.6"/>
<circle cx="479" cy="348.2" r="3.7" fill="none" stroke="#f00" stroke-width="2.6"/>
<circle cx="479.1" cy="334.8" r="3.7" fill="none" stroke="#f00" stroke-width="2.6"/>
<circle cx="479.2" cy="335.9" r="3.7" fill="none" stroke="#f00" stroke-width="2.6"/>
<circle cx="479.3" cy="336.4" r="3.7" fill="none" stroke="#f00" stroke-width="2.6"/>
<circle cx="479.5" cy="356.6" r="3.7" fill="none" stroke="#f00" stroke-width="2.6"/>
<circle cx="479.6" cy="361.5" r="3.7" fill="none" stroke="#f00" stroke-width="2.6"/>
<circle cx="479.7" cy="359.4" r="3.7" fill="none" stroke="#f00" stroke-width="2.6"/>
<circle cx="479.8" cy="332.5" r="3.7" fill="none" stroke="#f00" stroke-width="2.6"/>
<circle cx="479.9" cy="331.3" r="3.7" fill="none" stroke="#f00" stroke-width="2.6"/>
<circle cx="480" cy="360.3" r="3.7" fill="none" stroke="#f00" stroke-width="2.6"/>
<circle cx="480.2" cy="344.2" r="3.7" fill="none" stroke="#f00" stroke-width="2.6"/>
<circle cx="480.3" cy="354.1" r="3.7" fill="none" stroke="#f00" stroke-width="2.6"/>
<circle cx="480.4" cy="339.6" r="3.7" fill="none" stroke="#f00" stroke-width="2.6"/>
<circle cx="480.5" cy="344.1" r="3.7" fill="none" stroke="#f00" stroke-width="2.6"/>
<circle cx="480.6" cy="345.7" r="3.7" fill="none" stroke="#f00" stroke-width="2.6"/>
<circle cx="480.7" cy="342.8" r="3.7" fill="none" stroke="#f00" stroke-width="2.6"/>
<circle cx="480.9" cy="348.5" r="3.7" fill="none" stroke="#f00" stroke-width="2.6"/>
<circle cx="481" cy="328.5" r="3.7" fill="none" stroke="#f00" stroke-width="2.6"/>
<circle cx="481.1" cy="351.8" r="3.7" fill="none" stroke="#f00" stroke-width="2.6"/>
<circle cx="481.2" cy="356.7" r="3.7" fill="none" stroke="#f00" stroke-width="2.6"/>
<circle cx="481.3" cy="334.2" r="3.7" fill="none" stroke="#f00" stroke-width="2.6"/>
<circle cx="481.4" cy="343.4" r="3.7" fill="none" stroke="#f00" stroke-width="2.6"/>
<circle cx="484" cy="359" r="3.7" fill="#fff" stroke="#f00" stroke-width="2.6"/>
<circle cx="484" cy="352.8" r="3.7" fill="#fff" stroke="#f00" stroke-width="2.6"/>
<circle cx="484" cy="344.8" r="3.7" fill="#fff" stroke="#f00" stroke-width="2.6"/>
<circle cx="484" cy="336.8" r="3.7" fill="#fff" stroke="#f00" stroke-width="2.6"/>
<circle cx="484" cy="329.9" r="3.7" fill="#fff" stroke="#f00" stroke-width="2.6"/>
<circle cx="484" cy="320.7" r="3.7" fill="#fff" stroke="#f00" stroke-width="2.6"/>
<circle cx="487.3" cy="293" r="3.7" fill="#f00" stroke="#f00" stroke-width="2.6"/>
<circle cx="488.3" cy="292.9" r="3.7" fill="#f00" stroke="#f00" stroke-width="2.6"/>
<circle cx="487.9" cy="292.8" r="3.7" fill="#f00" stroke="#f00" stroke-width="2.6"/>
<circle cx="486.4" cy="292.6" r="3.7" fill="#f00" stroke="#f00" stroke-width="2.6"/>
<circle cx="487.6" cy="292.4" r="3.7" fill="#f00" stroke="#f00" stroke-width="2.6"/>
<circle cx="486.8" cy="292.4" r="3.7" fill="#f00" stroke="#f00" stroke-width="2.6"/>
<circle cx="488.3" cy="292.1" r="3.7" fill="#f00" stroke="#f00" stroke-width="2.6"/>
<circle cx="486.5" cy="291.7" r="3.7" fill="#f00" stroke="#f00" stroke-width="2.6"/>
<circle cx="487.4" cy="291.6" r="3.7" fill="#f00" stroke="#f00" stroke-width="2.6"/>
<circle cx="487.5" cy="291.4" r="3.7" fill="#f00" stroke="#f00" stroke-width="2.6"/>
<circle cx="489" cy="291.2" r="3.7" fill="#f00" stroke="#f00" stroke-width="2.6"/>
<circle cx="486.1" cy="290.4" r="3.7" fill="#f00" stroke="#f00" stroke-width="2.6"/>
<circle cx="489.2" cy="290.3" r="3.7" fill="#f00" stroke="#f00" stroke-width="2.6"/>
<circle cx="485.8" cy="289.2" r="3.7" fill="#f00" stroke="#f00" stroke-width="2.6"/>
<circle cx="486.3" cy="288.7" r="3.7" fill="#f00" stroke="#f00" stroke-width="2.6"/>
<circle cx="486.7" cy="288.6" r="3.7" fill="#f00" stroke="#f00" stroke-width="2.6"/>
<circle cx="487.1" cy="287.9" r="3.7" fill="#f00" stroke="#f00" stroke-width="2.6"/>
<circle cx="489" cy="287.8" r="3.7" fill="#f00" stroke="#f00" stroke-width="2.6"/>
<circle cx="484.4" cy="286" r="3.7" fill="#f00" stroke="#f00" stroke-width="2.6"/>
<circle cx="490" cy="285.8" r="3.7" fill="#f00" stroke="#f00" stroke-width="2.6"/>
<circle cx="484.1" cy="285.2" r="3.7" fill="#f00" stroke="#f00" stroke-width="2.6"/>
<circle cx="490.1" cy="285" r="3.7" fill="#f00" stroke="#f00" stroke-width="2.6"/>
<circle cx="491.2" cy="284.3" r="3.7" fill="#f00" stroke="#f00" stroke-width="2.6"/>
<circle cx="483.5" cy="283.7" r="3.7" fill="#f00" stroke="#f00" stroke-width="2.6"/>
<circle cx="489.7" cy="283.6" r="3.7" fill="#f00" stroke="#f00" stroke-width="2.6"/>
<circle cx="491.4" cy="283.2" r="3.7" fill="#f00" stroke="#f00" stroke-width="2.6"/>
<circle cx="484.9" cy="282.9" r="3.7" fill="#f00" stroke="#f00" stroke-width="2.6"/>
<circle cx="489.2" cy="282.5" r="3.7" fill="#f00" stroke="#f00" stroke-width="2.6"/>
<circle cx="491.4" cy="281.6" r="3.7" fill="#f00" stroke="#f00" stroke-width="2.6"/>
<circle cx="489.2" cy="281" r="3.7" fill="#f00" stroke="#f00" stroke-width="2.6"/>
<circle cx="492" cy="279.6" r="3.7" fill="#f00" stroke="#f00" stroke-width="2.6"/>
<circle cx="487.3" cy="279.5" r="3.7" fill="#f00" stroke="#f00" stroke-width="2.6"/>
<circle cx="492.6" cy="279.1" r="3.7" fill="#f00" stroke="#f00" stroke-width="2.6"/>
<circle cx="492.4" cy="278.9" r="3.7" fill="#f00" stroke="#f00" stroke-width="2.6"/>
<circle cx="487" cy="278.8" r="3.7" fill="#f00" stroke="#f00" stroke-width="2.6"/>
<circle cx="488.7" cy="278.5" r="3.7" fill="#f00" stroke="#f00" stroke-width="2.6"/>
<circle cx="487.3" cy="277.8" r="3.7" fill="#f00" stroke="#f00" stroke-width="2.6"/>
<circle cx="483.8" cy="277.8" r="3.7" fill="#f00" stroke="#f00" stroke-width="2.6"/>
<circle cx="483.8" cy="277.8" r="3.7" fill="#f00" stroke="#f00" stroke-width="2.6"/>
<circle cx="485.2" cy="276.8" r="3.7" fill="#f00" stroke="#f00" stroke-width="2.6"/>
<circle cx="492.6" cy="276.7" r="3.7" fill="#f00" stroke="#f00" stroke-width="2.6"/>
<circle cx="485.8" cy="276.5" r="3.7" fill="#f00" stroke="#f00" stroke-width="2.6"/>
<circle cx="489.2" cy="276.3" r="3.7" fill="#f00" stroke="#f00" stroke-width="2.6"/>
<circle cx="491.6" cy="276.2" r="3.7" fill="#f00" stroke="#f00" stroke-width="2.6"/>
<circle cx="483.4" cy="275.7" r="3.7" fill="#f00" stroke="#f00" stroke-width="2.6"/>
<circle cx="491" cy="275.7" r="3.7" fill="#f00" stroke="#f00" stroke-width="2.6"/>
<circle cx="490" cy="275.6" r="3.7" fill="#f00" stroke="#f00" stroke-width="2.6"/>
<circle cx="488.5" cy="275.4" r="3.7" fill="#f00" stroke="#f00" stroke-width="2.6"/>
<circle cx="493.6" cy="274.9" r="3.7" fill="#f00" stroke="#f00" stroke-width="2.6"/>
<circle cx="483" cy="273.6" r="3.7" fill="#f00" stroke="#f00" stroke-width="2.6"/>
<circle cx="484.2" cy="273.5" r="3.7" fill="#f00" stroke="#f00" stroke-width="2.6"/>
<circle cx="489.4" cy="271.8" r="3.7" fill="#f00" stroke="#f00" stroke-width="2.6"/>
<circle cx="486.5" cy="271.1" r="3.7" fill="#f00" stroke="#f00" stroke-width="2.6"/>
<circle cx="491.6" cy="270.8" r="3.7" fill="#f00" stroke="#f00" stroke-width="2.6"/>
<circle cx="485.9" cy="270.7" r="3.7" fill="#f00" stroke="#f00" stroke-width="2.6"/>
<circle cx="484.2" cy="270.5" r="3.7" fill="#f00" stroke="#f00" stroke-width="2.6"/>
<circle cx="483.9" cy="270.4" r="3.7" fill="#f00" stroke="#f00" stroke-width="2.6"/>
<circle cx="484.8" cy="270" r="3.7" fill="#f00" stroke="#f00" stroke-width="2.6"/>
<circle cx="490.5" cy="269.6" r="3.7" fill="#f00" stroke="#f00" stroke-width="2.6"/>
<circle cx="485.4" cy="269" r="3.7" fill="#f00" stroke="#f00" stroke-width="2.6"/>
<circle cx="487.9" cy="268.1" r="3.7" fill="#f00" stroke="#f00" stroke-width="2.6"/>
<circle cx="491" cy="267.8" r="3.7" fill="#f00" stroke="#f00" stroke-width="2.6"/>
<circle cx="489.8" cy="267.1" r="3.7" fill="#f00" stroke="#f00" stroke-width="2.6"/>
<circle cx="488.4" cy="266.9" r="3.7" fill="#f00" stroke="#f00" stroke-width="2.6"/>
<circle cx="485.1" cy="266.8" r="3.7" fill="#f00" stroke="#f00" stroke-width="2.6"/>
<circle cx="491.5" cy="264.5" r="3.7" fill="#f00" stroke="#f00" stroke-width="2.6"/>
<circle cx="492.5" cy="263.7" r="3.7" fill="#f00" stroke="#f00" stroke-width="2.6"/>
<circle cx="488.6" cy="263.6" r="3.7" fill="#f00" stroke="#f00" stroke-width="2.6"/>
<circle cx="483.1" cy="263.4" r="3.7" fill="#f00" stroke="#f00" stroke-width="2.6"/>
<circle cx="490.3" cy="263.1" r="3.7" fill="#f00" stroke="#f00" stroke-width="2.6"/>
<circle cx="490.7" cy="263.1" r="3.7" fill="#f00" stroke="#f00" stroke-width="2.6"/>
<circle cx="490.8" cy="262.7" r="3.7" fill="#f00" stroke="#f00" stroke-width="2.6"/>
<circle cx="482.2" cy="262.7" r="3.7" fill="#f00" stroke="#f00" stroke-width="2.6"/>
<circle cx="490" cy="262.4" r="3.7" fill="#f00" stroke="#f00" stroke-width="2.6"/>
<circle cx="490.9" cy="261.9" r="3.7" fill="#f00" stroke="#f00" stroke-width="2.6"/>
<circle cx="488.4" cy="261.8" r="3.7" fill="#f00" stroke="#f00" stroke-width="2.6"/>
<circle cx="490.3" cy="261.1" r="3.7" fill="#f00" stroke="#f00" stroke-width="2.6"/>
<circle cx="486.6" cy="261.1" r="3.7" fill="#f00" stroke="#f00" stroke-width="2.6"/>
<circle cx="492.7" cy="259.9" r="3.7" fill="#f00" stroke="#f00" stroke-width="2.6"/>
<circle cx="492.3" cy="259.8" r="3.7" fill="#f00" stroke="#f00" stroke-width="2.6"/>
<circle cx="489.8" cy="259.8" r="3.7" fill="#f00" stroke="#f00" stroke-width="2.6"/>
<circle cx="483.1" cy="259.2" r="3.7" fill="#f00" stroke="#f00" stroke-width="2.6"/>
<circle cx="484.4" cy="257.9" r="3.7" fill="#f00" stroke="#f00" stroke-width="2.6"/>
<circle cx="491.7" cy="257.9" r="3.7" fill="#f00" stroke="#f00" stroke-width="2.6"/>
<circle cx="490.5" cy="257.6" r="3.7" fill="#f00" stroke="#f00" stroke-width="2.6"/>
<circle cx="491.3" cy="257.5" r="3.7" fill="#f00" stroke="#f00" stroke-width="2.6"/>
<circle cx="490.5" cy="257" r="3.7" fill="#f00" stroke="#f00" stroke-width="2.6"/>
<circle cx="484.7" cy="256.2" r="3.7" fill="#f00" stroke="#f00" stroke-width="2.6"/>
<circle cx="489.1" cy="256.1" r="3.7" fill="#f00" stroke="#f00" stroke-width="2.6"/>
<circle cx="489.1" cy="255.8" r="3.7" fill="#f00" stroke="#f00" stroke-width="2.6"/>
<circle cx="488.1" cy="255.5" r="3.7" fill="#f00" stroke="#f00" stroke-width="2.6"/>
<circle cx="490.4" cy="255.5" r="3.7" fill="#f00" stroke="#f00" stroke-width="2.6"/>
<circle cx="490.8" cy="254.8" r="3.7" fill="#f00" stroke="#f00" stroke-width="2.6"/>
<circle cx="484.8" cy="254.7" r="3.7" fill="#f00" stroke="#f00" stroke-width="2.6"/>
<circle cx="490.2" cy="254.7" r="3.7" fill="#f00" stroke="#f00" stroke-width="2.6"/>
<circle cx="487.4" cy="253.7" r="3.7" fill="#f00" stroke="#f00" stroke-width="2.6"/>
<circle cx="485.3" cy="252.8" r="3.7" fill="#f00" stroke="#f00" stroke-width="2.6"/>
<circle cx="488.4" cy="251.2" r="3.7" fill="#f00" stroke="#f00" stroke-width="2.6"/>
<circle cx="486.7" cy="250.1" r="3.7" fill="#f00" stroke="#f00" stroke-width="2.6"/>
<circle cx="486" cy="249.8" r="3.7" fill="#f00" stroke="#f00" stroke-width="2.6"/>
<circle cx="488.7" cy="248.4" r="3.7" fill="#f00" stroke="#f00" stroke-width="2.6"/>
<circle cx="487.4" cy="248" r="3.7" fill="#f00" stroke="#f00" stroke-width="2.6"/>
<circle cx="487.8" cy="247.7" r="3.7" fill="#f00" stroke="#f00" stroke-width="2.6"/>
<circle cx="487.8" cy="246.9" r="3.7" fill="#f00" stroke="#f00" stroke-width="2.6"/>
<circle cx="486.5" cy="246.2" r="3.7" fill="#f00" stroke="#f00" stroke-width="2.6"/>
<circle cx="487.4" cy="246.2" r="3.7" fill="#f00" stroke="#f00" stroke-width="2.6"/>
<circle cx="488.4" cy="246.1" r="3.7" fill="#f00" stroke="#f00" stroke-width="2.6"/>
<circle cx="488.2" cy="245.8" r="3.7" fill="#f00" stroke="#f00" stroke-width="2.6"/>
<circle cx="487.6" cy="245.6" r="3.7" fill="#f00" stroke="#f00" stroke-width="2.6"/>
<circle cx="488.2" cy="245" r="3.7" fill="#f00" stroke="#f00" stroke-width="2.6"/>
<circle cx="491.7" cy="275.8" r="3.7" fill="#fff" stroke="#f00" stroke-width="2.6"/>
<circle cx="491.7" cy="267.1" r="3.7" fill="#fff" stroke="#f00" stroke-width="2.6"/>
<circle cx="490.7" cy="259.7" r="3.7" fill="#fff" stroke="#f00" stroke-width="2.6"/>
<circle cx="488.7" cy="248.6" r="3.7" fill="#fff" stroke="#f00" stroke-width="2.6"/>
<circle cx="488.7" cy="242.4" r="3.7" fill="#fff" stroke="#f00" stroke-width="2.6"/>
<path d="M316.8 211.3H518.5V373.4H316.8Z" fill="none" stroke="#000" stroke-width="1.4"/>
<line x1="341.5" y1="373.4" x2="341.5" y2="369.4" stroke="#000" stroke-width="1.1"/>
<line x1="366.7" y1="373.4" x2="366.7" y2="371.2" stroke="#000" stroke-width="1.1"/>
<line x1="391.9" y1="373.4" x2="391.9" y2="369.4" stroke="#000" stroke-width="1.1"/>
<line x1="417.1" y1="373.4" x2="417.1" y2="371.2" stroke="#000" stroke-width="1.1"/>
<line x1="442.3" y1="373.4" x2="442.3" y2="369.4" stroke="#000" stroke-width="1.1"/>
<line x1="467.5" y1="373.4" x2="467.5" y2="371.2" stroke="#000" stroke-width="1.1"/>
<line x1="492.7" y1="373.4" x2="492.7" y2="369.4" stroke="#000" stroke-width="1.1"/>
<text x="341.5" y="386.4" font-family="Liberation Serif" font-size="12.3" font-weight="bold" text-anchor="middle" fill="#000">6</text>
<text x="391.9" y="386.4" font-family="Liberation Serif" font-size="12.3" font-weight="bold" text-anchor="middle" fill="#000">7</text>
<text x="442.3" y="386.4" font-family="Liberation Serif" font-size="12.3" font-weight="bold" text-anchor="middle" fill="#000">8</text>
<text x="492.7" y="386.4" font-family="Liberation Serif" font-size="12.3" font-weight="bold" text-anchor="middle" fill="#000">9</text>
<line x1="316.8" y1="373.3" x2="320.8" y2="373.3" stroke="#000" stroke-width="1.1"/>
<line x1="316.8" y1="361.7" x2="319" y2="361.7" stroke="#000" stroke-width="1.1"/>
<line x1="316.8" y1="350.2" x2="320.8" y2="350.2" stroke="#000" stroke-width="1.1"/>
<line x1="316.8" y1="338.6" x2="319" y2="338.6" stroke="#000" stroke-width="1.1"/>
<line x1="316.8" y1="327" x2="320.8" y2="327" stroke="#000" stroke-width="1.1"/>
<line x1="316.8" y1="315.4" x2="319" y2="315.4" stroke="#000" stroke-width="1.1"/>
<line x1="316.8" y1="303.9" x2="320.8" y2="303.9" stroke="#000" stroke-width="1.1"/>
<line x1="316.8" y1="292.3" x2="319" y2="292.3" stroke="#000" stroke-width="1.1"/>
<line x1="316.8" y1="280.7" x2="320.8" y2="280.7" stroke="#000" stroke-width="1.1"/>
<line x1="316.8" y1="269.1" x2="319" y2="269.1" stroke="#000" stroke-width="1.1"/>
<line x1="316.8" y1="257.6" x2="320.8" y2="257.6" stroke="#000" stroke-width="1.1"/>
<line x1="316.8" y1="246" x2="319" y2="246" stroke="#000" stroke-width="1.1"/>
<line x1="316.8" y1="234.4" x2="320.8" y2="234.4" stroke="#000" stroke-width="1.1"/>
<line x1="316.8" y1="222.8" x2="319" y2="222.8" stroke="#000" stroke-width="1.1"/>
<line x1="316.8" y1="211.3" x2="320.8" y2="211.3" stroke="#000" stroke-width="1.1"/>
<text x="312.2" y="377.3" font-family="Liberation Serif" font-size="12.3" font-weight="bold" text-anchor="end" fill="#000">3.5</text>
<text x="312.2" y="354.2" font-family="Liberation Serif" font-size="12.3" font-weight="bold" text-anchor="end" fill="#000">4.0</text>
<text x="312.2" y="331" font-family="Liberation Serif" font-size="12.3" font-weight="bold" text-anchor="end" fill="#000">4.5</text>
<text x="312.2" y="307.9" font-family="Liberation Serif" font-size="12.3" font-weight="bold" text-anchor="end" fill="#000">5.0</text>
<text x="312.2" y="284.7" font-family="Liberation Serif" font-size="12.3" font-weight="bold" text-anchor="end" fill="#000">5.5</text>
<text x="312.2" y="261.6" font-family="Liberation Serif" font-size="12.3" font-weight="bold" text-anchor="end" fill="#000">6.0</text>
<text x="312.2" y="238.4" font-family="Liberation Serif" font-size="12.3" font-weight="bold" text-anchor="end" fill="#000">6.5</text>
<text x="312.2" y="215.3" font-family="Liberation Serif" font-size="12.3" font-weight="bold" text-anchor="end" fill="#000">7.0</text>
<text x="416.6" y="398.6" font-family="Liberation Serif" font-size="12.5" font-weight="bold" text-anchor="middle" fill="#000">Log(Cycle_Number)</text>
<text x="291" y="291.6" font-family="Liberation Serif" font-size="12.9" font-weight="bold" text-anchor="middle" fill="#000" transform="rotate(-90 291 291.6)">Log(Resistance)</text>
<text x="270.8" y="219.2" font-family="Liberation Serif" font-size="17.3" font-weight="normal" text-anchor="start" fill="#000">(d)</text>
<line x1="331.8" y1="276.9" x2="361.6" y2="276.9" stroke="#000" stroke-width="1.9"/>
<rect x="343.4" y="273.6" width="6.5" height="6.5" fill="#fff" stroke="#000" stroke-width="2.3"/>
<line x1="331.8" y1="292.8" x2="361.6" y2="292.8" stroke="#f00" stroke-width="1.9"/>
<circle cx="346.7" cy="292.8" r="3.7" fill="#fff" stroke="#f00" stroke-width="2.6"/>
<text x="364.1" y="281.3" font-family="Liberation Serif" font-size="13" font-weight="normal" text-anchor="start" fill="#000">Reset</text>
<text x="364.1" y="297" font-family="Liberation Serif" font-size="13" font-weight="normal" text-anchor="start" fill="#000">Set</text>
</svg>
</body></html>
